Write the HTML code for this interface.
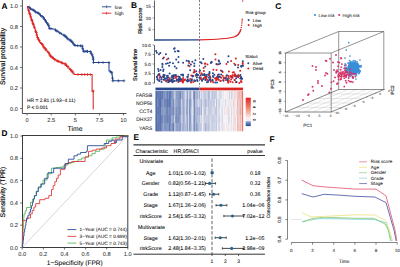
<!DOCTYPE html><html><head><meta charset="utf-8"><style>html,body{margin:0;padding:0;background:#fff;width:400px;height:267px;overflow:hidden}svg{display:block}</style></head><body><svg text-rendering="geometricPrecision" width="400" height="267" viewBox="0 0 400 267" font-family="Liberation Sans, sans-serif"><text x="1.6" y="8.7" font-size="8.3" text-anchor="start" fill="#000" stroke="#000" stroke-width="0.06" font-weight="bold" >A</text>
<text x="131" y="8.3" font-size="8.3" text-anchor="start" fill="#000" stroke="#000" stroke-width="0.06" font-weight="bold" >B</text>
<text x="275.3" y="8.5" font-size="8.3" text-anchor="start" fill="#000" stroke="#000" stroke-width="0.06" font-weight="bold" >C</text>
<text x="1.5" y="135.5" font-size="8.3" text-anchor="start" fill="#000" stroke="#000" stroke-width="0.06" font-weight="bold" >D</text>
<text x="133.5" y="140.3" font-size="8.3" text-anchor="start" fill="#000" stroke="#000" stroke-width="0.06" font-weight="bold" >E</text>
<text x="269.5" y="142.3" font-size="8.3" text-anchor="start" fill="#000" stroke="#000" stroke-width="0.06" font-weight="bold" >F</text>
<line x1="22.4" y1="0" x2="22.4" y2="113.5" stroke="#3a3a3a" stroke-width="0.9" />
<line x1="22.4" y1="113.5" x2="126.5" y2="113.5" stroke="#3a3a3a" stroke-width="0.9" />
<line x1="20" y1="6" x2="22" y2="6" stroke="#3a3a3a" stroke-width="0.7" />
<text x="18.0" y="8" font-size="5.7" text-anchor="end" fill="#333" stroke="#333" stroke-width="0.06" >1.0</text>
<line x1="20" y1="26.5" x2="22" y2="26.5" stroke="#3a3a3a" stroke-width="0.7" />
<text x="18.0" y="28.5" font-size="5.7" text-anchor="end" fill="#333" stroke="#333" stroke-width="0.06" >0.8</text>
<line x1="20" y1="47" x2="22" y2="47" stroke="#3a3a3a" stroke-width="0.7" />
<text x="18.0" y="49" font-size="5.7" text-anchor="end" fill="#333" stroke="#333" stroke-width="0.06" >0.6</text>
<line x1="20" y1="67.5" x2="22" y2="67.5" stroke="#3a3a3a" stroke-width="0.7" />
<text x="18.0" y="69.5" font-size="5.7" text-anchor="end" fill="#333" stroke="#333" stroke-width="0.06" >0.4</text>
<line x1="20" y1="88" x2="22" y2="88" stroke="#3a3a3a" stroke-width="0.7" />
<text x="18.0" y="90" font-size="5.7" text-anchor="end" fill="#333" stroke="#333" stroke-width="0.06" >0.2</text>
<line x1="20" y1="108.5" x2="22" y2="108.5" stroke="#3a3a3a" stroke-width="0.7" />
<text x="18.0" y="110.5" font-size="5.7" text-anchor="end" fill="#333" stroke="#333" stroke-width="0.06" >0.0</text>
<line x1="27" y1="113.5" x2="27" y2="115.5" stroke="#3a3a3a" stroke-width="0.7" />
<text x="27" y="122.1" font-size="5.7" text-anchor="middle" fill="#333" stroke="#333" stroke-width="0.06" >0</text>
<line x1="51.2" y1="113.5" x2="51.2" y2="115.5" stroke="#3a3a3a" stroke-width="0.7" />
<text x="51.2" y="122.1" font-size="5.7" text-anchor="middle" fill="#333" stroke="#333" stroke-width="0.06" >2.5</text>
<line x1="75.3" y1="113.5" x2="75.3" y2="115.5" stroke="#3a3a3a" stroke-width="0.7" />
<text x="75.3" y="122.1" font-size="5.7" text-anchor="middle" fill="#333" stroke="#333" stroke-width="0.06" >5</text>
<line x1="99.4" y1="113.5" x2="99.4" y2="115.5" stroke="#3a3a3a" stroke-width="0.7" />
<text x="99.4" y="122.1" font-size="5.7" text-anchor="middle" fill="#333" stroke="#333" stroke-width="0.06" >7.5</text>
<line x1="123.5" y1="113.5" x2="123.5" y2="115.5" stroke="#3a3a3a" stroke-width="0.7" />
<text x="123.5" y="122.1" font-size="5.7" text-anchor="middle" fill="#333" stroke="#333" stroke-width="0.06" >10</text>
<text x="75" y="130.8" font-size="6.8" text-anchor="middle" fill="#000" stroke="#000" stroke-width="0.06" >Time</text>
<text x="5.2" y="56.5" font-size="6.8" text-anchor="middle" fill="#000" stroke="#000" stroke-width="0.16" transform="rotate(-90 5.2 56.5)" >Survival probability</text>
<path d="M27.00,6.50 L28.20,6.50 L28.20,7.30 L29.40,7.30 L29.40,8.10 L30.60,8.10 L30.60,8.90 L31.80,8.90 L31.80,9.70 L33.00,9.70 L33.00,10.50 L34.20,10.50 L34.20,11.24 L35.40,11.24 L35.40,11.98 L36.60,11.98 L36.60,12.72 L37.80,12.72 L37.80,13.46 L39.00,13.46 L39.00,14.20 L40.50,14.20 L40.50,15.47 L42.00,15.47 L42.00,16.73 L43.50,16.73 L43.50,18.00 L44.50,18.00 L44.50,19.50 L45.50,19.50 L45.50,21.00 L46.50,21.00 L46.50,22.50 L47.23,22.50 L47.23,23.98 L47.95,23.98 L47.95,25.45 L48.67,25.45 L48.67,26.92 L49.40,26.92 L49.40,28.40 L50.93,28.40 L50.93,28.67 L52.47,28.67 L52.47,28.93 L54.00,28.93 L54.00,29.20 L55.47,29.20 L55.47,30.20 L56.93,30.20 L56.93,31.20 L58.40,31.20 L58.40,32.20 L59.93,32.20 L59.93,33.20 L61.47,33.20 L61.47,34.20 L63.00,34.20 L63.00,35.20 L64.20,35.20 L64.20,36.16 L65.40,36.16 L65.40,37.12 L66.60,37.12 L66.60,38.08 L67.80,38.08 L67.80,39.04 L69.00,39.04 L69.00,40.00 L70.20,40.00 L70.20,41.10 L71.40,41.10 L71.40,42.20 L72.60,42.20 L72.60,43.30 L73.80,43.30 L73.80,44.40 L75.00,44.40 L75.00,45.50 L76.38,45.50 L76.38,45.60 L77.76,45.60 L77.76,45.70 L79.14,45.70 L79.14,45.80 L80.52,45.80 L80.52,45.90 L81.90,45.90 L81.90,46.00 L82.28,46.00 L82.28,47.30 L82.65,47.30 L82.65,48.60 L83.03,48.60 L83.03,49.90 L83.40,49.90 L83.40,51.20 L84.78,51.20 L84.78,51.28 L86.16,51.28 L86.16,51.36 L87.54,51.36 L87.54,51.44 L88.92,51.44 L88.92,51.52 L90.30,51.52 L90.30,51.60 L90.95,51.60 L90.95,53.30 L91.60,53.30 L91.60,55.00 L92.35,55.00 L92.35,56.40 L93.10,56.40 L93.10,57.80 L93.23,57.80 L93.23,59.37 L93.37,59.37 L93.37,60.93 L93.50,60.93 L93.50,62.50 L109.00,62.50 L109.00,70.90 L110.40,70.90 L110.40,71.85 L111.80,71.85 L111.80,72.80 L111.97,72.80 L111.97,74.13 L112.13,74.13 L112.13,75.47 L112.30,75.47 L112.30,76.80 L112.47,76.80 L112.47,78.13 L112.63,78.13 L112.63,79.47 L112.80,79.47 L112.80,80.80 L124.00,80.80" fill="none" stroke="#27468c" stroke-width="1.05"/>
<path d="M28.00,7.30h2.8M29.40,5.80v3.0M29.20,8.90h2.8M30.60,7.40v3.0M31.60,9.70h2.8M33.00,8.20v3.0M32.80,10.50h2.8M34.20,9.00v3.0M34.00,11.98h2.8M35.40,10.48v3.0M36.40,12.72h2.8M37.80,11.22v3.0M37.60,13.46h2.8M39.00,11.96v3.0M39.10,15.47h2.8M40.50,13.97v3.0M40.60,16.73h2.8M42.00,15.23v3.0M42.10,18.00h2.8M43.50,16.50v3.0M43.10,19.50h2.8M44.50,18.00v3.0M44.10,21.00h2.8M45.50,19.50v3.0M45.10,22.50h2.8M46.50,21.00v3.0M46.55,23.98h2.8M47.95,22.48v3.0M47.27,25.45h2.8M48.67,23.95v3.0M48.00,28.40h2.8M49.40,26.90v3.0M49.53,28.67h2.8M50.93,27.17v3.0M54.07,30.20h2.8M55.47,28.70v3.0M55.53,31.20h2.8M56.93,29.70v3.0M58.53,33.20h2.8M59.93,31.70v3.0M62.80,35.20h2.8M64.20,33.70v3.0M64.00,36.16h2.8M65.40,34.66v3.0M65.20,37.12h2.8M66.60,35.62v3.0M66.40,39.04h2.8M67.80,37.54v3.0M68.80,40.00h2.8M70.20,38.50v3.0M70.00,41.10h2.8M71.40,39.60v3.0M71.20,42.20h2.8M72.60,40.70v3.0M72.40,44.40h2.8M73.80,42.90v3.0M73.60,45.50h2.8M75.00,44.00v3.0M76.36,45.60h2.8M77.76,44.10v3.0M79.12,45.80h2.8M80.52,44.30v3.0M80.88,46.00h2.8M82.28,44.50v3.0M81.25,48.60h2.8M82.65,47.10v3.0M82.00,51.20h2.8M83.40,49.70v3.0M84.76,51.28h2.8M86.16,49.78v3.0M86.14,51.36h2.8M87.54,49.86v3.0M88.90,51.52h2.8M90.30,50.02v3.0M89.55,53.30h2.8M90.95,51.80v3.0M90.95,55.00h2.8M92.35,53.50v3.0M91.70,57.80h2.8M93.10,56.30v3.0M91.83,59.37h2.8M93.23,57.87v3.0M92.10,62.50h2.8M93.50,61.00v3.0M109.00,71.85h2.8M110.40,70.35v3.0M110.40,72.80h2.8M111.80,71.30v3.0M111.07,78.13h2.8M112.47,76.63v3.0M111.40,80.80h2.8M112.80,79.30v3.0" stroke="#27468c" stroke-width="0.7" fill="none"/>
<path d="M27.00,6.50 L27.45,6.50 L27.45,7.80 L27.90,7.80 L27.90,9.10 L28.35,9.10 L28.35,10.40 L28.80,10.40 L28.80,11.70 L29.25,11.70 L29.25,13.00 L29.70,13.00 L29.70,14.30 L30.15,14.30 L30.15,15.60 L30.60,15.60 L30.60,16.90 L31.05,16.90 L31.05,18.20 L31.50,18.20 L31.50,19.50 L31.96,19.50 L31.96,20.81 L32.42,20.81 L32.42,22.12 L32.89,22.12 L32.89,23.44 L33.35,23.44 L33.35,24.75 L33.81,24.75 L33.81,26.06 L34.28,26.06 L34.28,27.38 L34.74,27.38 L34.74,28.69 L35.20,28.69 L35.20,30.00 L35.58,30.00 L35.58,31.25 L35.97,31.25 L35.97,32.50 L36.35,32.50 L36.35,33.75 L36.73,33.75 L36.73,35.00 L37.12,35.00 L37.12,36.25 L37.50,36.25 L37.50,37.50 L38.13,37.50 L38.13,39.07 L38.77,39.07 L38.77,40.63 L39.40,40.63 L39.40,42.20 L40.52,42.20 L40.52,43.50 L41.64,43.50 L41.64,44.80 L42.76,44.80 L42.76,46.10 L43.88,46.10 L43.88,47.40 L45.00,47.40 L45.00,48.70 L45.93,48.70 L45.93,49.95 L46.87,49.95 L46.87,51.20 L47.80,51.20 L47.80,52.45 L48.73,52.45 L48.73,53.70 L49.67,53.70 L49.67,54.95 L50.60,54.95 L50.60,56.20 L52.00,56.20 L52.00,57.38 L53.40,57.38 L53.40,58.55 L54.80,58.55 L54.80,59.73 L56.20,59.73 L56.20,60.90 L57.45,60.90 L57.45,61.37 L58.70,61.37 L58.70,61.83 L59.95,61.83 L59.95,62.30 L61.20,62.30 L61.20,62.77 L62.45,62.77 L62.45,63.23 L63.70,63.23 L63.70,63.70 L65.10,63.70 L65.10,65.10 L66.50,65.10 L66.50,66.50 L67.90,66.50 L67.90,67.90 L69.30,67.90 L69.30,69.30 L70.47,69.30 L70.47,70.60 L71.65,70.60 L71.65,71.90 L72.83,71.90 L72.83,73.20 L74.00,73.20 L74.00,74.50 L92.10,74.50 L92.10,91.10 L93.20,91.10 L93.20,109.60" fill="none" stroke="#dd2222" stroke-width="1.05"/>
<path d="M27.40,10.40h2.8M28.80,8.90v3.0M27.85,13.00h2.8M29.25,11.50v3.0M28.75,14.30h2.8M30.15,12.80v3.0M29.20,16.90h2.8M30.60,15.40v3.0M30.10,19.50h2.8M31.50,18.00v3.0M30.56,20.81h2.8M31.96,19.31v3.0M31.49,23.44h2.8M32.89,21.94v3.0M31.95,24.75h2.8M33.35,23.25v3.0M32.88,27.38h2.8M34.28,25.88v3.0M34.18,31.25h2.8M35.58,29.75v3.0M34.95,32.50h2.8M36.35,31.00v3.0M35.33,35.00h2.8M36.73,33.50v3.0M36.10,37.50h2.8M37.50,36.00v3.0M36.73,39.07h2.8M38.13,37.57v3.0M38.00,40.63h2.8M39.40,39.13v3.0M40.24,43.50h2.8M41.64,42.00v3.0M41.36,44.80h2.8M42.76,43.30v3.0M42.48,47.40h2.8M43.88,45.90v3.0M43.60,48.70h2.8M45.00,47.20v3.0M44.53,49.95h2.8M45.93,48.45v3.0M47.33,52.45h2.8M48.73,50.95v3.0M48.27,54.95h2.8M49.67,53.45v3.0M49.20,56.20h2.8M50.60,54.70v3.0M50.60,57.38h2.8M52.00,55.88v3.0M52.00,58.55h2.8M53.40,57.05v3.0M53.40,59.73h2.8M54.80,58.23v3.0M56.05,60.90h2.8M57.45,59.40v3.0M57.30,61.37h2.8M58.70,59.87v3.0M59.80,62.30h2.8M61.20,60.80v3.0M61.05,63.23h2.8M62.45,61.73v3.0M63.70,63.70h2.8M65.10,62.20v3.0M65.10,65.10h2.8M66.50,63.60v3.0M66.50,66.50h2.8M67.90,65.00v3.0M69.07,69.30h2.8M70.47,67.80v3.0M70.25,70.60h2.8M71.65,69.10v3.0M71.42,71.90h2.8M72.83,70.40v3.0M91.80,91.10h2.8M93.20,89.60v3.0" stroke="#dd2222" stroke-width="0.7" fill="none"/>
<path d="M83.30,51.60h2.8M84.70,50.10v3.0M86.10,51.60h2.8M87.50,50.10v3.0M97.30,62.50h2.8M98.70,61.00v3.0M101.60,62.50h2.8M103.00,61.00v3.0M107.60,62.50h2.8M109.00,61.00v3.0M117.00,80.80h2.8M118.40,79.30v3.0M122.60,80.80h2.8M124.00,79.30v3.0" stroke="#27468c" stroke-width="0.7" fill="none"/>
<path d="M76.60,74.50h2.8M78.00,73.00v3.0M80.50,74.50h2.8M81.90,73.00v3.0M83.30,74.50h2.8M84.70,73.00v3.0M86.10,74.50h2.8M87.50,73.00v3.0M88.90,74.50h2.8M90.30,73.00v3.0" stroke="#dd2222" stroke-width="0.7" fill="none"/>
<line x1="102" y1="6.8" x2="111.3" y2="6.8" stroke="#27468c" stroke-width="0.9" />
<line x1="106.6" y1="5.4" x2="106.6" y2="8.2" stroke="#27468c" stroke-width="0.7" />
<line x1="102" y1="13.2" x2="111.3" y2="13.2" stroke="#dd2222" stroke-width="0.9" />
<line x1="106.6" y1="11.8" x2="106.6" y2="14.6" stroke="#dd2222" stroke-width="0.7" />
<text x="114.8" y="8.5" font-size="4.7" text-anchor="start" fill="#222" stroke="#222" stroke-width="0.06" >low</text>
<text x="114.8" y="14.9" font-size="4.7" text-anchor="start" fill="#222" stroke="#222" stroke-width="0.06" >high</text>
<text x="27" y="101.6" font-size="4.9" text-anchor="start" fill="#000" stroke="#000" stroke-width="0.06" >HR = 2.81 (1.93−4.11)</text>
<text x="27" y="108.6" font-size="4.9" text-anchor="start" fill="#000" stroke="#000" stroke-width="0.06" >P &lt; 0.001</text>
<line x1="154.5" y1="0.5" x2="154.5" y2="41" stroke="#3a3a3a" stroke-width="0.8" />
<line x1="152.5" y1="6.75" x2="154" y2="6.75" stroke="#333" stroke-width="0.5" />
<text x="150.8" y="8.35" font-size="4.6" text-anchor="end" fill="#222" stroke="#222" stroke-width="0.06" >15</text>
<line x1="152.5" y1="18" x2="154" y2="18" stroke="#333" stroke-width="0.5" />
<text x="150.8" y="19.6" font-size="4.6" text-anchor="end" fill="#222" stroke="#222" stroke-width="0.06" >10</text>
<line x1="152.5" y1="29.7" x2="154" y2="29.7" stroke="#333" stroke-width="0.5" />
<text x="150.8" y="31.3" font-size="4.6" text-anchor="end" fill="#222" stroke="#222" stroke-width="0.06" >5</text>
<text x="142.3" y="20.6" font-size="5.6" text-anchor="middle" fill="#000" stroke="#000" stroke-width="0.16" transform="rotate(-90 142.3 20.6)" >Risk score</text>
<path d="M155,40 L199,39.8" stroke="#27468c" stroke-width="1.3" fill="none"/>
<path d="M199,39.8 C215,39.5 228,38.8 234,37 C238,35.8 240,33 241,29" stroke="#dd2222" stroke-width="1.3" fill="none"/>
<circle cx="242.7" cy="1" r="0.7" fill="#dd2222"/>
<circle cx="241.3" cy="27.5" r="0.75" fill="#dd2222"/>
<circle cx="241.6" cy="25.2" r="0.75" fill="#dd2222"/>
<circle cx="241.9" cy="23" r="0.75" fill="#dd2222"/>
<circle cx="242.1" cy="21" r="0.75" fill="#dd2222"/>
<circle cx="242.3" cy="19.2" r="0.75" fill="#dd2222"/>
<line x1="199.5" y1="0" x2="199.5" y2="87" stroke="#444" stroke-width="0.7" stroke-dasharray="2,1.6"/>
<text x="245.5" y="14.3" font-size="4.2" text-anchor="start" fill="#000" stroke="#000" stroke-width="0.06" >Risk group</text>
<circle cx="248.6" cy="20" r="1.0" fill="#27468c"/>
<text x="252.8" y="21.6" font-size="4.4" text-anchor="start" fill="#000" stroke="#000" stroke-width="0.06" >Low</text>
<circle cx="248.6" cy="25" r="1.0" fill="#dd2222"/>
<text x="252.8" y="26.6" font-size="4.4" text-anchor="start" fill="#000" stroke="#000" stroke-width="0.06" >High</text>
<line x1="154.5" y1="45" x2="154.5" y2="83.5" stroke="#3a3a3a" stroke-width="0.8" />
<line x1="152.5" y1="45" x2="154" y2="45" stroke="#333" stroke-width="0.5" />
<text x="150.8" y="46.6" font-size="4.6" text-anchor="end" fill="#222" stroke="#222" stroke-width="0.06" >10.0</text>
<line x1="152.5" y1="54.5" x2="154" y2="54.5" stroke="#333" stroke-width="0.5" />
<text x="150.8" y="56.1" font-size="4.6" text-anchor="end" fill="#222" stroke="#222" stroke-width="0.06" >7.5</text>
<line x1="152.5" y1="64" x2="154" y2="64" stroke="#333" stroke-width="0.5" />
<text x="150.8" y="65.6" font-size="4.6" text-anchor="end" fill="#222" stroke="#222" stroke-width="0.06" >5.0</text>
<line x1="152.5" y1="73.5" x2="154" y2="73.5" stroke="#333" stroke-width="0.5" />
<text x="150.8" y="75.1" font-size="4.6" text-anchor="end" fill="#222" stroke="#222" stroke-width="0.06" >2.5</text>
<line x1="152.5" y1="83" x2="154" y2="83" stroke="#333" stroke-width="0.5" />
<text x="150.8" y="84.6" font-size="4.6" text-anchor="end" fill="#222" stroke="#222" stroke-width="0.06" >0.0</text>
<text x="137.3" y="65" font-size="5.6" text-anchor="middle" fill="#000" stroke="#000" stroke-width="0.16" transform="rotate(-90 137.3 65)" >Survival time</text>
<circle cx="195.4" cy="60.2" r="1.0" fill="#27468c"/>
<circle cx="200.2" cy="78.4" r="1.0" fill="#27468c"/>
<circle cx="210.8" cy="80.7" r="1.0" fill="#dd2222"/>
<circle cx="163.9" cy="57.4" r="1.0" fill="#dd2222"/>
<circle cx="241.5" cy="66.0" r="1.0" fill="#27468c"/>
<circle cx="169.7" cy="78.2" r="1.0" fill="#dd2222"/>
<circle cx="172.5" cy="82.2" r="1.0" fill="#27468c"/>
<circle cx="194.3" cy="66.1" r="1.0" fill="#27468c"/>
<circle cx="199.5" cy="71.7" r="1.0" fill="#dd2222"/>
<circle cx="242.8" cy="61.3" r="1.0" fill="#27468c"/>
<circle cx="183.4" cy="80.1" r="1.0" fill="#dd2222"/>
<circle cx="222.7" cy="75.7" r="1.0" fill="#dd2222"/>
<circle cx="239.3" cy="83.0" r="1.0" fill="#dd2222"/>
<circle cx="235.2" cy="74.6" r="1.0" fill="#dd2222"/>
<circle cx="162.4" cy="63.8" r="1.0" fill="#27468c"/>
<circle cx="163.6" cy="74.7" r="1.0" fill="#27468c"/>
<circle cx="166.3" cy="81.6" r="1.0" fill="#dd2222"/>
<circle cx="225.3" cy="78.0" r="1.0" fill="#dd2222"/>
<circle cx="172.6" cy="79.8" r="1.0" fill="#27468c"/>
<circle cx="166.1" cy="80.7" r="1.0" fill="#27468c"/>
<circle cx="240.5" cy="75.0" r="1.0" fill="#27468c"/>
<circle cx="174.3" cy="75.6" r="1.0" fill="#27468c"/>
<circle cx="164.7" cy="75.2" r="1.0" fill="#27468c"/>
<circle cx="223.2" cy="80.1" r="1.0" fill="#dd2222"/>
<circle cx="163.8" cy="77.0" r="1.0" fill="#27468c"/>
<circle cx="188.3" cy="74.8" r="1.0" fill="#27468c"/>
<circle cx="206.0" cy="77.3" r="1.0" fill="#dd2222"/>
<circle cx="235.0" cy="76.3" r="1.0" fill="#dd2222"/>
<circle cx="220.3" cy="77.3" r="1.0" fill="#27468c"/>
<circle cx="232.8" cy="72.6" r="1.0" fill="#dd2222"/>
<circle cx="159.4" cy="74.1" r="1.0" fill="#27468c"/>
<circle cx="178.4" cy="62.2" r="1.0" fill="#27468c"/>
<circle cx="171.3" cy="81.3" r="1.0" fill="#dd2222"/>
<circle cx="204.7" cy="63.8" r="1.0" fill="#dd2222"/>
<circle cx="235.8" cy="82.3" r="1.0" fill="#dd2222"/>
<circle cx="194.8" cy="81.0" r="1.0" fill="#dd2222"/>
<circle cx="205.8" cy="79.5" r="1.0" fill="#27468c"/>
<circle cx="241.3" cy="65.9" r="1.0" fill="#27468c"/>
<circle cx="168.2" cy="82.3" r="1.0" fill="#27468c"/>
<circle cx="217.0" cy="82.4" r="1.0" fill="#27468c"/>
<circle cx="198.0" cy="75.1" r="1.0" fill="#27468c"/>
<circle cx="162.5" cy="64.8" r="1.0" fill="#27468c"/>
<circle cx="220.1" cy="63.4" r="1.0" fill="#27468c"/>
<circle cx="186.6" cy="60.7" r="1.0" fill="#27468c"/>
<circle cx="192.3" cy="61.7" r="1.0" fill="#27468c"/>
<circle cx="210.4" cy="77.8" r="1.0" fill="#27468c"/>
<circle cx="163.0" cy="58.5" r="1.0" fill="#27468c"/>
<circle cx="219.4" cy="76.6" r="1.0" fill="#27468c"/>
<circle cx="194.3" cy="80.3" r="1.0" fill="#27468c"/>
<circle cx="158.6" cy="71.1" r="1.0" fill="#27468c"/>
<circle cx="216.8" cy="77.5" r="1.0" fill="#27468c"/>
<circle cx="178.3" cy="80.0" r="1.0" fill="#27468c"/>
<circle cx="173.6" cy="75.2" r="1.0" fill="#27468c"/>
<circle cx="194.4" cy="72.3" r="1.0" fill="#27468c"/>
<circle cx="173.3" cy="76.0" r="1.0" fill="#27468c"/>
<circle cx="232.6" cy="77.8" r="1.0" fill="#dd2222"/>
<circle cx="167.8" cy="75.7" r="1.0" fill="#27468c"/>
<circle cx="217.9" cy="74.9" r="1.0" fill="#dd2222"/>
<circle cx="195.2" cy="80.7" r="1.0" fill="#27468c"/>
<circle cx="210.4" cy="79.9" r="1.0" fill="#27468c"/>
<circle cx="241.4" cy="81.8" r="1.0" fill="#dd2222"/>
<circle cx="231.9" cy="76.8" r="1.0" fill="#dd2222"/>
<circle cx="182.9" cy="82.5" r="1.0" fill="#dd2222"/>
<circle cx="195.6" cy="75.8" r="1.0" fill="#dd2222"/>
<circle cx="168.3" cy="77.4" r="1.0" fill="#27468c"/>
<circle cx="210.8" cy="63.1" r="1.0" fill="#27468c"/>
<circle cx="215.6" cy="78.6" r="1.0" fill="#dd2222"/>
<circle cx="156.9" cy="76.7" r="1.0" fill="#27468c"/>
<circle cx="179.7" cy="76.9" r="1.0" fill="#27468c"/>
<circle cx="209.5" cy="73.3" r="1.0" fill="#27468c"/>
<circle cx="234.8" cy="75.0" r="1.0" fill="#27468c"/>
<circle cx="167.3" cy="77.4" r="1.0" fill="#27468c"/>
<circle cx="188.8" cy="61.3" r="1.0" fill="#27468c"/>
<circle cx="238.2" cy="77.2" r="1.0" fill="#dd2222"/>
<circle cx="218.8" cy="64.3" r="1.0" fill="#27468c"/>
<circle cx="174.6" cy="48.3" r="1.0" fill="#27468c"/>
<circle cx="202.7" cy="75.1" r="1.0" fill="#27468c"/>
<circle cx="230.5" cy="81.8" r="1.0" fill="#dd2222"/>
<circle cx="203.9" cy="71.0" r="1.0" fill="#dd2222"/>
<circle cx="226.4" cy="76.0" r="1.0" fill="#dd2222"/>
<circle cx="185.1" cy="79.5" r="1.0" fill="#dd2222"/>
<circle cx="200.9" cy="62.3" r="1.0" fill="#27468c"/>
<circle cx="238.3" cy="74.9" r="1.0" fill="#dd2222"/>
<circle cx="175.3" cy="75.8" r="1.0" fill="#27468c"/>
<circle cx="211.6" cy="62.2" r="1.0" fill="#27468c"/>
<circle cx="183.1" cy="75.7" r="1.0" fill="#27468c"/>
<circle cx="174.1" cy="48.7" r="1.0" fill="#27468c"/>
<circle cx="205.9" cy="78.2" r="1.0" fill="#27468c"/>
<circle cx="208.7" cy="74.7" r="1.0" fill="#27468c"/>
<circle cx="190.9" cy="64.4" r="1.0" fill="#27468c"/>
<circle cx="216.1" cy="78.1" r="1.0" fill="#dd2222"/>
<circle cx="239.2" cy="75.9" r="1.0" fill="#dd2222"/>
<circle cx="167.0" cy="75.9" r="1.0" fill="#27468c"/>
<circle cx="197.5" cy="80.9" r="1.0" fill="#27468c"/>
<circle cx="236.5" cy="76.2" r="1.0" fill="#dd2222"/>
<circle cx="172.9" cy="76.9" r="1.0" fill="#27468c"/>
<circle cx="186.9" cy="80.4" r="1.0" fill="#27468c"/>
<circle cx="166.7" cy="80.4" r="1.0" fill="#dd2222"/>
<circle cx="202.1" cy="79.4" r="1.0" fill="#dd2222"/>
<circle cx="202.1" cy="80.8" r="1.0" fill="#27468c"/>
<circle cx="211.5" cy="62.0" r="1.0" fill="#27468c"/>
<circle cx="230.5" cy="76.5" r="1.0" fill="#27468c"/>
<circle cx="234.5" cy="79.9" r="1.0" fill="#27468c"/>
<circle cx="175.0" cy="51.6" r="1.0" fill="#27468c"/>
<circle cx="176.8" cy="76.6" r="1.0" fill="#dd2222"/>
<circle cx="228.4" cy="76.1" r="1.0" fill="#dd2222"/>
<circle cx="191.0" cy="82.6" r="1.0" fill="#dd2222"/>
<circle cx="215.4" cy="54.2" r="1.0" fill="#dd2222"/>
<circle cx="200.0" cy="70.6" r="1.0" fill="#27468c"/>
<circle cx="172.4" cy="81.6" r="1.0" fill="#dd2222"/>
<circle cx="204.0" cy="77.9" r="1.0" fill="#dd2222"/>
<circle cx="172.1" cy="75.7" r="1.0" fill="#27468c"/>
<circle cx="236.6" cy="81.9" r="1.0" fill="#27468c"/>
<circle cx="196.2" cy="74.9" r="1.0" fill="#27468c"/>
<circle cx="200.8" cy="77.6" r="1.0" fill="#dd2222"/>
<circle cx="217.0" cy="77.7" r="1.0" fill="#dd2222"/>
<circle cx="220.3" cy="80.9" r="1.0" fill="#dd2222"/>
<circle cx="200.6" cy="75.3" r="1.0" fill="#27468c"/>
<circle cx="217.3" cy="64.5" r="1.0" fill="#dd2222"/>
<circle cx="208.2" cy="74.6" r="1.0" fill="#27468c"/>
<circle cx="178.5" cy="57.0" r="1.0" fill="#27468c"/>
<circle cx="226.9" cy="75.3" r="1.0" fill="#27468c"/>
<circle cx="216.4" cy="64.1" r="1.0" fill="#27468c"/>
<circle cx="218.9" cy="79.7" r="1.0" fill="#dd2222"/>
<circle cx="156.9" cy="77.3" r="1.0" fill="#27468c"/>
<circle cx="176.2" cy="59.6" r="1.0" fill="#27468c"/>
<circle cx="213.4" cy="69.8" r="1.0" fill="#dd2222"/>
<circle cx="243.0" cy="65.7" r="1.0" fill="#27468c"/>
<circle cx="241.3" cy="77.5" r="1.0" fill="#27468c"/>
<circle cx="178.3" cy="82.0" r="1.0" fill="#dd2222"/>
<circle cx="188.7" cy="80.4" r="1.0" fill="#27468c"/>
<circle cx="203.9" cy="74.7" r="1.0" fill="#27468c"/>
<circle cx="242.6" cy="63.0" r="1.0" fill="#dd2222"/>
<circle cx="208.0" cy="81.9" r="1.0" fill="#27468c"/>
<circle cx="169.9" cy="81.1" r="1.0" fill="#27468c"/>
<circle cx="209.2" cy="74.9" r="1.0" fill="#dd2222"/>
<circle cx="201.8" cy="74.0" r="1.0" fill="#dd2222"/>
<circle cx="213.0" cy="76.0" r="1.0" fill="#27468c"/>
<circle cx="181.8" cy="80.5" r="1.0" fill="#dd2222"/>
<circle cx="169.6" cy="73.4" r="1.0" fill="#27468c"/>
<circle cx="221.1" cy="74.5" r="1.0" fill="#27468c"/>
<circle cx="162.4" cy="67.1" r="1.0" fill="#27468c"/>
<circle cx="240.7" cy="78.3" r="1.0" fill="#27468c"/>
<circle cx="218.9" cy="74.6" r="1.0" fill="#27468c"/>
<circle cx="208.5" cy="77.4" r="1.0" fill="#27468c"/>
<circle cx="173.7" cy="78.2" r="1.0" fill="#dd2222"/>
<circle cx="194.5" cy="71.7" r="1.0" fill="#dd2222"/>
<circle cx="206.7" cy="76.2" r="1.0" fill="#27468c"/>
<circle cx="242.8" cy="64.0" r="1.0" fill="#dd2222"/>
<circle cx="165.9" cy="54.3" r="1.0" fill="#27468c"/>
<circle cx="187.2" cy="77.0" r="1.0" fill="#27468c"/>
<circle cx="207.5" cy="64.4" r="1.0" fill="#dd2222"/>
<circle cx="177.7" cy="51.0" r="1.0" fill="#27468c"/>
<circle cx="159.4" cy="80.3" r="1.0" fill="#27468c"/>
<circle cx="210.2" cy="78.1" r="1.0" fill="#dd2222"/>
<circle cx="163.5" cy="69.4" r="1.0" fill="#27468c"/>
<circle cx="188.5" cy="80.7" r="1.0" fill="#dd2222"/>
<circle cx="220.8" cy="80.8" r="1.0" fill="#dd2222"/>
<circle cx="226.4" cy="64.0" r="1.0" fill="#dd2222"/>
<circle cx="192.9" cy="76.0" r="1.0" fill="#27468c"/>
<circle cx="212.9" cy="73.2" r="1.0" fill="#27468c"/>
<circle cx="220.9" cy="70.6" r="1.0" fill="#dd2222"/>
<circle cx="164.4" cy="80.1" r="1.0" fill="#dd2222"/>
<circle cx="205.1" cy="77.0" r="1.0" fill="#dd2222"/>
<circle cx="223.5" cy="80.7" r="1.0" fill="#27468c"/>
<circle cx="163.1" cy="76.6" r="1.0" fill="#27468c"/>
<circle cx="180.6" cy="79.6" r="1.0" fill="#27468c"/>
<circle cx="187.9" cy="76.8" r="1.0" fill="#27468c"/>
<circle cx="235.9" cy="58.5" r="1.0" fill="#dd2222"/>
<circle cx="225.9" cy="79.9" r="1.0" fill="#dd2222"/>
<circle cx="237.3" cy="76.4" r="1.0" fill="#dd2222"/>
<circle cx="187.8" cy="79.3" r="1.0" fill="#27468c"/>
<circle cx="173.0" cy="63.3" r="1.0" fill="#27468c"/>
<circle cx="228.8" cy="78.6" r="1.0" fill="#27468c"/>
<circle cx="232.6" cy="82.3" r="1.0" fill="#dd2222"/>
<circle cx="203.3" cy="59.1" r="1.0" fill="#27468c"/>
<circle cx="226.0" cy="78.1" r="1.0" fill="#27468c"/>
<circle cx="163.3" cy="76.5" r="1.0" fill="#27468c"/>
<circle cx="163.4" cy="79.4" r="1.0" fill="#27468c"/>
<circle cx="212.5" cy="80.7" r="1.0" fill="#27468c"/>
<circle cx="201.4" cy="73.3" r="1.0" fill="#dd2222"/>
<circle cx="240.2" cy="70.8" r="1.0" fill="#dd2222"/>
<circle cx="218.7" cy="60.4" r="1.0" fill="#27468c"/>
<circle cx="227.9" cy="61.9" r="1.0" fill="#27468c"/>
<circle cx="228.5" cy="56.3" r="1.0" fill="#27468c"/>
<circle cx="201.6" cy="63.2" r="1.0" fill="#27468c"/>
<circle cx="192.6" cy="76.5" r="1.0" fill="#27468c"/>
<circle cx="188.7" cy="80.8" r="1.0" fill="#27468c"/>
<circle cx="181.4" cy="81.0" r="1.0" fill="#dd2222"/>
<circle cx="166.0" cy="63.8" r="1.0" fill="#27468c"/>
<circle cx="161.4" cy="77.8" r="1.0" fill="#27468c"/>
<circle cx="159.2" cy="81.0" r="1.0" fill="#27468c"/>
<circle cx="176.5" cy="68.3" r="1.0" fill="#27468c"/>
<circle cx="172.1" cy="81.1" r="1.0" fill="#27468c"/>
<circle cx="183.1" cy="62.8" r="1.0" fill="#27468c"/>
<circle cx="178.7" cy="51.2" r="1.0" fill="#27468c"/>
<circle cx="203.6" cy="67.9" r="1.0" fill="#dd2222"/>
<circle cx="160.3" cy="53.0" r="1.0" fill="#27468c"/>
<circle cx="201.9" cy="80.2" r="1.0" fill="#27468c"/>
<circle cx="213.2" cy="82.3" r="1.0" fill="#dd2222"/>
<circle cx="188.3" cy="65.4" r="1.0" fill="#27468c"/>
<circle cx="169.7" cy="79.9" r="1.0" fill="#27468c"/>
<circle cx="231.6" cy="77.3" r="1.0" fill="#27468c"/>
<circle cx="179.2" cy="79.3" r="1.0" fill="#27468c"/>
<circle cx="156.1" cy="50.9" r="1.0" fill="#27468c"/>
<circle cx="163.2" cy="76.7" r="1.0" fill="#dd2222"/>
<circle cx="197.8" cy="74.8" r="1.0" fill="#27468c"/>
<circle cx="230.6" cy="76.1" r="1.0" fill="#dd2222"/>
<circle cx="235.8" cy="75.8" r="1.0" fill="#dd2222"/>
<circle cx="203.3" cy="79.1" r="1.0" fill="#27468c"/>
<circle cx="183.1" cy="81.8" r="1.0" fill="#dd2222"/>
<circle cx="196.6" cy="74.1" r="1.0" fill="#27468c"/>
<circle cx="165.2" cy="78.7" r="1.0" fill="#27468c"/>
<circle cx="228.2" cy="82.7" r="1.0" fill="#dd2222"/>
<circle cx="217.8" cy="77.9" r="1.0" fill="#dd2222"/>
<circle cx="156.9" cy="52.7" r="1.0" fill="#27468c"/>
<circle cx="209.6" cy="79.4" r="1.0" fill="#27468c"/>
<circle cx="181.9" cy="79.3" r="1.0" fill="#27468c"/>
<circle cx="178.3" cy="76.6" r="1.0" fill="#27468c"/>
<circle cx="238.2" cy="65.1" r="1.0" fill="#dd2222"/>
<circle cx="227.9" cy="81.3" r="1.0" fill="#dd2222"/>
<circle cx="215.0" cy="78.6" r="1.0" fill="#dd2222"/>
<circle cx="228.8" cy="80.8" r="1.0" fill="#dd2222"/>
<circle cx="169.7" cy="79.2" r="1.0" fill="#dd2222"/>
<circle cx="236.1" cy="78.3" r="1.0" fill="#27468c"/>
<circle cx="222.7" cy="71.9" r="1.0" fill="#dd2222"/>
<circle cx="191.9" cy="79.2" r="1.0" fill="#27468c"/>
<circle cx="241.4" cy="66.7" r="1.0" fill="#27468c"/>
<circle cx="157.6" cy="79.7" r="1.0" fill="#27468c"/>
<circle cx="165.2" cy="78.4" r="1.0" fill="#27468c"/>
<circle cx="227.8" cy="79.1" r="1.0" fill="#27468c"/>
<circle cx="234.6" cy="74.3" r="1.0" fill="#dd2222"/>
<circle cx="168.3" cy="58.6" r="1.0" fill="#27468c"/>
<circle cx="218.2" cy="77.2" r="1.0" fill="#27468c"/>
<circle cx="210.6" cy="81.8" r="1.0" fill="#dd2222"/>
<circle cx="206.2" cy="74.9" r="1.0" fill="#27468c"/>
<circle cx="187.4" cy="81.4" r="1.0" fill="#27468c"/>
<circle cx="167.8" cy="63.2" r="1.0" fill="#27468c"/>
<circle cx="204.8" cy="75.2" r="1.0" fill="#27468c"/>
<circle cx="227.1" cy="80.0" r="1.0" fill="#27468c"/>
<circle cx="181.1" cy="74.7" r="1.0" fill="#27468c"/>
<circle cx="228.3" cy="78.1" r="1.0" fill="#dd2222"/>
<circle cx="158.8" cy="74.6" r="1.0" fill="#27468c"/>
<circle cx="213.3" cy="77.1" r="1.0" fill="#27468c"/>
<circle cx="189.2" cy="63.1" r="1.0" fill="#dd2222"/>
<circle cx="173.4" cy="81.3" r="1.0" fill="#27468c"/>
<circle cx="205.5" cy="78.3" r="1.0" fill="#dd2222"/>
<circle cx="205.4" cy="77.3" r="1.0" fill="#dd2222"/>
<circle cx="214.4" cy="74.8" r="1.0" fill="#27468c"/>
<circle cx="196.9" cy="77.5" r="1.0" fill="#27468c"/>
<circle cx="221.9" cy="71.0" r="1.0" fill="#27468c"/>
<circle cx="228.9" cy="71.6" r="1.0" fill="#dd2222"/>
<circle cx="205.2" cy="66.6" r="1.0" fill="#27468c"/>
<circle cx="193.6" cy="72.5" r="1.0" fill="#dd2222"/>
<circle cx="219.1" cy="61.6" r="1.0" fill="#27468c"/>
<circle cx="221.4" cy="77.7" r="1.0" fill="#dd2222"/>
<circle cx="166.8" cy="78.4" r="1.0" fill="#27468c"/>
<circle cx="160.5" cy="70.0" r="1.0" fill="#27468c"/>
<circle cx="182.6" cy="80.5" r="1.0" fill="#dd2222"/>
<circle cx="235.3" cy="65.1" r="1.0" fill="#27468c"/>
<circle cx="192.7" cy="75.7" r="1.0" fill="#27468c"/>
<circle cx="205.3" cy="79.9" r="1.0" fill="#27468c"/>
<circle cx="166.8" cy="59.5" r="1.0" fill="#dd2222"/>
<circle cx="177.2" cy="79.8" r="1.0" fill="#dd2222"/>
<circle cx="233.9" cy="72.2" r="1.0" fill="#dd2222"/>
<circle cx="206.9" cy="82.2" r="1.0" fill="#27468c"/>
<circle cx="182.8" cy="75.0" r="1.0" fill="#27468c"/>
<circle cx="197.1" cy="80.1" r="1.0" fill="#27468c"/>
<circle cx="234.0" cy="75.7" r="1.0" fill="#dd2222"/>
<circle cx="197.1" cy="75.4" r="1.0" fill="#27468c"/>
<circle cx="173.6" cy="78.3" r="1.0" fill="#27468c"/>
<circle cx="160.4" cy="76.6" r="1.0" fill="#27468c"/>
<circle cx="234.3" cy="63.7" r="1.0" fill="#dd2222"/>
<circle cx="216.5" cy="69.9" r="1.0" fill="#dd2222"/>
<circle cx="175.4" cy="76.8" r="1.0" fill="#dd2222"/>
<circle cx="171.7" cy="77.1" r="1.0" fill="#27468c"/>
<circle cx="188.4" cy="61.2" r="1.0" fill="#27468c"/>
<circle cx="175.9" cy="75.0" r="1.0" fill="#27468c"/>
<circle cx="180.1" cy="80.8" r="1.0" fill="#27468c"/>
<circle cx="194.3" cy="69.9" r="1.0" fill="#dd2222"/>
<circle cx="208.2" cy="80.4" r="1.0" fill="#27468c"/>
<circle cx="163.6" cy="76.4" r="1.0" fill="#27468c"/>
<circle cx="180.3" cy="78.4" r="1.0" fill="#27468c"/>
<circle cx="241.9" cy="78.7" r="1.0" fill="#27468c"/>
<circle cx="189.5" cy="66.3" r="1.0" fill="#dd2222"/>
<circle cx="204.4" cy="74.1" r="1.0" fill="#27468c"/>
<circle cx="224.1" cy="78.4" r="1.0" fill="#27468c"/>
<circle cx="215.5" cy="59.5" r="1.0" fill="#dd2222"/>
<circle cx="223.8" cy="77.6" r="1.0" fill="#dd2222"/>
<circle cx="194.3" cy="63.6" r="1.0" fill="#27468c"/>
<circle cx="176.5" cy="80.7" r="1.0" fill="#27468c"/>
<circle cx="199.4" cy="77.7" r="1.0" fill="#27468c"/>
<circle cx="205.8" cy="77.4" r="1.0" fill="#dd2222"/>
<circle cx="157.5" cy="79.0" r="1.0" fill="#27468c"/>
<circle cx="178.9" cy="81.2" r="1.0" fill="#27468c"/>
<circle cx="205.5" cy="63.4" r="1.0" fill="#dd2222"/>
<circle cx="168.7" cy="82.1" r="1.0" fill="#27468c"/>
<circle cx="210.0" cy="76.5" r="1.0" fill="#27468c"/>
<circle cx="163.7" cy="76.7" r="1.0" fill="#27468c"/>
<circle cx="169.9" cy="62.5" r="1.0" fill="#27468c"/>
<circle cx="161.3" cy="79.5" r="1.0" fill="#27468c"/>
<circle cx="240.4" cy="78.5" r="1.0" fill="#27468c"/>
<circle cx="241.8" cy="78.8" r="1.0" fill="#27468c"/>
<circle cx="159.4" cy="75.3" r="1.0" fill="#dd2222"/>
<circle cx="190.2" cy="79.0" r="1.0" fill="#dd2222"/>
<circle cx="159.0" cy="54.3" r="1.0" fill="#27468c"/>
<circle cx="176.0" cy="78.0" r="1.0" fill="#dd2222"/>
<circle cx="196.2" cy="71.2" r="1.0" fill="#27468c"/>
<circle cx="241.4" cy="82.0" r="1.0" fill="#dd2222"/>
<circle cx="212.5" cy="79.7" r="1.0" fill="#27468c"/>
<circle cx="231.2" cy="61.1" r="1.0" fill="#dd2222"/>
<circle cx="190.2" cy="70.3" r="1.0" fill="#27468c"/>
<circle cx="174.7" cy="81.0" r="1.0" fill="#27468c"/>
<circle cx="170.3" cy="80.7" r="1.0" fill="#27468c"/>
<circle cx="182.8" cy="74.5" r="1.0" fill="#27468c"/>
<circle cx="231.1" cy="79.4" r="1.0" fill="#dd2222"/>
<circle cx="216.1" cy="80.2" r="1.0" fill="#dd2222"/>
<circle cx="171.8" cy="79.3" r="1.0" fill="#27468c"/>
<circle cx="218.2" cy="79.5" r="1.0" fill="#dd2222"/>
<circle cx="237.5" cy="76.3" r="1.0" fill="#27468c"/>
<circle cx="234.9" cy="79.9" r="1.0" fill="#dd2222"/>
<circle cx="163.2" cy="71.0" r="1.0" fill="#27468c"/>
<circle cx="201.2" cy="79.3" r="1.0" fill="#dd2222"/>
<circle cx="159.6" cy="77.7" r="1.0" fill="#dd2222"/>
<circle cx="183.2" cy="78.1" r="1.0" fill="#dd2222"/>
<circle cx="217.5" cy="76.6" r="1.0" fill="#27468c"/>
<circle cx="168.8" cy="80.2" r="1.0" fill="#27468c"/>
<circle cx="191.3" cy="75.5" r="1.0" fill="#dd2222"/>
<circle cx="181.4" cy="80.7" r="1.0" fill="#dd2222"/>
<circle cx="158.1" cy="69.0" r="1.0" fill="#27468c"/>
<circle cx="240.9" cy="77.1" r="1.0" fill="#27468c"/>
<circle cx="174.8" cy="66.5" r="1.0" fill="#27468c"/>
<circle cx="231.5" cy="77.4" r="1.0" fill="#dd2222"/>
<circle cx="193.2" cy="82.0" r="1.0" fill="#dd2222"/>
<circle cx="184.6" cy="80.2" r="1.0" fill="#dd2222"/>
<circle cx="191.0" cy="81.1" r="1.0" fill="#27468c"/>
<circle cx="176.9" cy="79.7" r="1.0" fill="#27468c"/>
<circle cx="169.1" cy="65.7" r="1.0" fill="#27468c"/>
<circle cx="216.9" cy="79.3" r="1.0" fill="#dd2222"/>
<circle cx="161.5" cy="82.0" r="1.0" fill="#27468c"/>
<circle cx="207.0" cy="79.8" r="1.0" fill="#dd2222"/>
<circle cx="158.0" cy="75.3" r="1.0" fill="#27468c"/>
<circle cx="178.8" cy="78.4" r="1.0" fill="#27468c"/>
<circle cx="209.5" cy="71.9" r="1.0" fill="#27468c"/>
<circle cx="238.0" cy="67.5" r="1.0" fill="#27468c"/>
<circle cx="191.8" cy="80.2" r="1.0" fill="#27468c"/>
<circle cx="232.5" cy="75.2" r="1.0" fill="#dd2222"/>
<circle cx="167.8" cy="80.0" r="1.0" fill="#27468c"/>
<circle cx="241.0" cy="80.9" r="1.0" fill="#dd2222"/>
<circle cx="215.2" cy="82.4" r="1.0" fill="#27468c"/>
<text x="245.3" y="58.1" font-size="4.4" text-anchor="start" fill="#000" stroke="#000" stroke-width="0.06" >Status</text>
<circle cx="248.3" cy="63.2" r="1.0" fill="#27468c"/>
<text x="252.8" y="64.6" font-size="4.4" text-anchor="start" fill="#000" stroke="#000" stroke-width="0.06" >Alive</text>
<circle cx="248.3" cy="68.5" r="1.0" fill="#dd2222"/>
<text x="252.8" y="70.1" font-size="4.4" text-anchor="start" fill="#000" stroke="#000" stroke-width="0.06" >Dead</text>
<rect x="155.5" y="87.6" width="44" height="2.7" fill="#27468c"/>
<rect x="199.5" y="87.6" width="43.5" height="2.7" fill="#dd2222"/>
<defs><filter id="hb" x="0" y="0" width="1" height="1"><feGaussianBlur stdDeviation="0.45 0.3"/></filter></defs><g filter="url(#hb)">
<rect x="155.50" y="91.00" width="1.14" height="8.14" fill="#39589e"/>
<rect x="156.49" y="91.00" width="1.14" height="8.14" fill="#284a96"/>
<rect x="157.49" y="91.00" width="1.14" height="8.14" fill="#5d76af"/>
<rect x="158.48" y="91.00" width="1.14" height="8.14" fill="#284a96"/>
<rect x="159.48" y="91.00" width="1.14" height="8.14" fill="#546fab"/>
<rect x="160.47" y="91.00" width="1.14" height="8.14" fill="#284a96"/>
<rect x="161.47" y="91.00" width="1.14" height="8.14" fill="#637ab2"/>
<rect x="162.46" y="91.00" width="1.14" height="8.14" fill="#2b4c97"/>
<rect x="163.45" y="91.00" width="1.14" height="8.14" fill="#8899c4"/>
<rect x="164.45" y="91.00" width="1.14" height="8.14" fill="#506ba9"/>
<rect x="165.44" y="91.00" width="1.14" height="8.14" fill="#7f92c0"/>
<rect x="166.44" y="91.00" width="1.14" height="8.14" fill="#556fac"/>
<rect x="167.43" y="91.00" width="1.14" height="8.14" fill="#415fa2"/>
<rect x="168.43" y="91.00" width="1.14" height="8.14" fill="#7085b8"/>
<rect x="169.42" y="91.00" width="1.14" height="8.14" fill="#284a96"/>
<rect x="170.41" y="91.00" width="1.14" height="8.14" fill="#4d68a7"/>
<rect x="171.41" y="91.00" width="1.14" height="8.14" fill="#7086b8"/>
<rect x="172.40" y="91.00" width="1.14" height="8.14" fill="#7489ba"/>
<rect x="173.40" y="91.00" width="1.14" height="8.14" fill="#8698c3"/>
<rect x="174.39" y="91.00" width="1.14" height="8.14" fill="#ccd2e4"/>
<rect x="175.39" y="91.00" width="1.14" height="8.14" fill="#8a9bc5"/>
<rect x="176.38" y="91.00" width="1.14" height="8.14" fill="#687fb4"/>
<rect x="177.38" y="91.00" width="1.14" height="8.14" fill="#8395c1"/>
<rect x="178.37" y="91.00" width="1.14" height="8.14" fill="#637ab2"/>
<rect x="179.36" y="91.00" width="1.14" height="8.14" fill="#6c82b6"/>
<rect x="180.36" y="91.00" width="1.14" height="8.14" fill="#4c67a7"/>
<rect x="181.35" y="91.00" width="1.14" height="8.14" fill="#b2bcd7"/>
<rect x="182.35" y="91.00" width="1.14" height="8.14" fill="#6f84b8"/>
<rect x="183.34" y="91.00" width="1.14" height="8.14" fill="#9ba9cd"/>
<rect x="184.34" y="91.00" width="1.14" height="8.14" fill="#acb7d5"/>
<rect x="185.33" y="91.00" width="1.14" height="8.14" fill="#dee0ed"/>
<rect x="186.32" y="91.00" width="1.14" height="8.14" fill="#a2afd0"/>
<rect x="187.32" y="91.00" width="1.14" height="8.14" fill="#768abb"/>
<rect x="188.31" y="91.00" width="1.14" height="8.14" fill="#dee0ed"/>
<rect x="189.31" y="91.00" width="1.14" height="8.14" fill="#8698c3"/>
<rect x="190.30" y="91.00" width="1.14" height="8.14" fill="#8b9bc5"/>
<rect x="191.30" y="91.00" width="1.14" height="8.14" fill="#c6cde1"/>
<rect x="192.29" y="91.00" width="1.14" height="8.14" fill="#dee0ed"/>
<rect x="193.28" y="91.00" width="1.14" height="8.14" fill="#637bb2"/>
<rect x="194.28" y="91.00" width="1.14" height="8.14" fill="#546eab"/>
<rect x="195.27" y="91.00" width="1.14" height="8.14" fill="#abb6d4"/>
<rect x="196.27" y="91.00" width="1.14" height="8.14" fill="#96a5ca"/>
<rect x="197.26" y="91.00" width="1.14" height="8.14" fill="#92a2c9"/>
<rect x="198.26" y="91.00" width="1.14" height="8.14" fill="#c2c9df"/>
<rect x="199.25" y="91.00" width="1.14" height="8.14" fill="#8e9ec6"/>
<rect x="200.24" y="91.00" width="1.14" height="8.14" fill="#e6e7f0"/>
<rect x="201.24" y="91.00" width="1.14" height="8.14" fill="#bbc4dc"/>
<rect x="202.23" y="91.00" width="1.14" height="8.14" fill="#dee0ec"/>
<rect x="203.23" y="91.00" width="1.14" height="8.14" fill="#bec6de"/>
<rect x="204.22" y="91.00" width="1.14" height="8.14" fill="#b7c0da"/>
<rect x="205.22" y="91.00" width="1.14" height="8.14" fill="#bac2db"/>
<rect x="206.21" y="91.00" width="1.14" height="8.14" fill="#c9cfe3"/>
<rect x="207.20" y="91.00" width="1.14" height="8.14" fill="#c7cee2"/>
<rect x="208.20" y="91.00" width="1.14" height="8.14" fill="#9daacd"/>
<rect x="209.19" y="91.00" width="1.14" height="8.14" fill="#aeb9d6"/>
<rect x="210.19" y="91.00" width="1.14" height="8.14" fill="#e2e3ee"/>
<rect x="211.18" y="91.00" width="1.14" height="8.14" fill="#c6cce1"/>
<rect x="212.18" y="91.00" width="1.14" height="8.14" fill="#b2bcd7"/>
<rect x="213.17" y="91.00" width="1.14" height="8.14" fill="#c2c9df"/>
<rect x="214.16" y="91.00" width="1.14" height="8.14" fill="#bac3dc"/>
<rect x="215.16" y="91.00" width="1.14" height="8.14" fill="#c1c8df"/>
<rect x="216.15" y="91.00" width="1.14" height="8.14" fill="#c2c9df"/>
<rect x="217.15" y="91.00" width="1.14" height="8.14" fill="#e9e9f2"/>
<rect x="218.14" y="91.00" width="1.14" height="8.14" fill="#e5e6f0"/>
<rect x="219.14" y="91.00" width="1.14" height="8.14" fill="#cbd1e4"/>
<rect x="220.13" y="91.00" width="1.14" height="8.14" fill="#d4d8e8"/>
<rect x="221.12" y="91.00" width="1.14" height="8.14" fill="#d6dae9"/>
<rect x="222.12" y="91.00" width="1.14" height="8.14" fill="#f5eff2"/>
<rect x="223.11" y="91.00" width="1.14" height="8.14" fill="#e5e6f0"/>
<rect x="224.11" y="91.00" width="1.14" height="8.14" fill="#f6f2f5"/>
<rect x="225.10" y="91.00" width="1.14" height="8.14" fill="#f5eef1"/>
<rect x="226.10" y="91.00" width="1.14" height="8.14" fill="#f5ecef"/>
<rect x="227.09" y="91.00" width="1.14" height="8.14" fill="#f4e6e7"/>
<rect x="228.09" y="91.00" width="1.14" height="8.14" fill="#efeef5"/>
<rect x="229.08" y="91.00" width="1.14" height="8.14" fill="#ced3e5"/>
<rect x="230.07" y="91.00" width="1.14" height="8.14" fill="#f5ebee"/>
<rect x="231.07" y="91.00" width="1.14" height="8.14" fill="#cad0e3"/>
<rect x="232.06" y="91.00" width="1.14" height="8.14" fill="#dee1ed"/>
<rect x="233.06" y="91.00" width="1.14" height="8.14" fill="#f5e8ea"/>
<rect x="234.05" y="91.00" width="1.14" height="8.14" fill="#f2d4d3"/>
<rect x="235.05" y="91.00" width="1.14" height="8.14" fill="#f4ddde"/>
<rect x="236.04" y="91.00" width="1.14" height="8.14" fill="#e4e5ef"/>
<rect x="237.03" y="91.00" width="1.14" height="8.14" fill="#f1c7c4"/>
<rect x="238.03" y="91.00" width="1.14" height="8.14" fill="#f0bbb7"/>
<rect x="239.02" y="91.00" width="1.14" height="8.14" fill="#efb6b1"/>
<rect x="240.02" y="91.00" width="1.14" height="8.14" fill="#f1c3c0"/>
<rect x="241.01" y="91.00" width="1.14" height="8.14" fill="#efb4ae"/>
<rect x="242.01" y="91.00" width="1.14" height="8.14" fill="#e8796b"/>
<rect x="155.50" y="99.04" width="1.14" height="8.14" fill="#284a96"/>
<rect x="156.49" y="99.04" width="1.14" height="8.14" fill="#36569d"/>
<rect x="157.49" y="99.04" width="1.14" height="8.14" fill="#7388ba"/>
<rect x="158.48" y="99.04" width="1.14" height="8.14" fill="#284a96"/>
<rect x="159.48" y="99.04" width="1.14" height="8.14" fill="#4360a3"/>
<rect x="160.47" y="99.04" width="1.14" height="8.14" fill="#284a96"/>
<rect x="161.47" y="99.04" width="1.14" height="8.14" fill="#778bbb"/>
<rect x="162.46" y="99.04" width="1.14" height="8.14" fill="#536eab"/>
<rect x="163.45" y="99.04" width="1.14" height="8.14" fill="#899ac4"/>
<rect x="164.45" y="99.04" width="1.14" height="8.14" fill="#37569d"/>
<rect x="165.44" y="99.04" width="1.14" height="8.14" fill="#6279b1"/>
<rect x="166.44" y="99.04" width="1.14" height="8.14" fill="#4865a5"/>
<rect x="167.43" y="99.04" width="1.14" height="8.14" fill="#37579d"/>
<rect x="168.43" y="99.04" width="1.14" height="8.14" fill="#556fab"/>
<rect x="169.42" y="99.04" width="1.14" height="8.14" fill="#2f5099"/>
<rect x="170.41" y="99.04" width="1.14" height="8.14" fill="#4a66a6"/>
<rect x="171.41" y="99.04" width="1.14" height="8.14" fill="#8c9cc6"/>
<rect x="172.40" y="99.04" width="1.14" height="8.14" fill="#7186b9"/>
<rect x="173.40" y="99.04" width="1.14" height="8.14" fill="#4c68a7"/>
<rect x="174.39" y="99.04" width="1.14" height="8.14" fill="#c8cee2"/>
<rect x="175.39" y="99.04" width="1.14" height="8.14" fill="#7b8fbe"/>
<rect x="176.38" y="99.04" width="1.14" height="8.14" fill="#7d90be"/>
<rect x="177.38" y="99.04" width="1.14" height="8.14" fill="#7a8ebd"/>
<rect x="178.37" y="99.04" width="1.14" height="8.14" fill="#677eb4"/>
<rect x="179.36" y="99.04" width="1.14" height="8.14" fill="#657cb3"/>
<rect x="180.36" y="99.04" width="1.14" height="8.14" fill="#768bbb"/>
<rect x="181.35" y="99.04" width="1.14" height="8.14" fill="#d4d8e8"/>
<rect x="182.35" y="99.04" width="1.14" height="8.14" fill="#8899c4"/>
<rect x="183.34" y="99.04" width="1.14" height="8.14" fill="#8899c4"/>
<rect x="184.34" y="99.04" width="1.14" height="8.14" fill="#abb6d4"/>
<rect x="185.33" y="99.04" width="1.14" height="8.14" fill="#d6dae9"/>
<rect x="186.32" y="99.04" width="1.14" height="8.14" fill="#8b9bc5"/>
<rect x="187.32" y="99.04" width="1.14" height="8.14" fill="#6b81b6"/>
<rect x="188.31" y="99.04" width="1.14" height="8.14" fill="#dee0ed"/>
<rect x="189.31" y="99.04" width="1.14" height="8.14" fill="#546eab"/>
<rect x="190.30" y="99.04" width="1.14" height="8.14" fill="#7c8fbe"/>
<rect x="191.30" y="99.04" width="1.14" height="8.14" fill="#b4bed9"/>
<rect x="192.29" y="99.04" width="1.14" height="8.14" fill="#dee0ed"/>
<rect x="193.28" y="99.04" width="1.14" height="8.14" fill="#90a0c8"/>
<rect x="194.28" y="99.04" width="1.14" height="8.14" fill="#526caa"/>
<rect x="195.27" y="99.04" width="1.14" height="8.14" fill="#b7c0da"/>
<rect x="196.27" y="99.04" width="1.14" height="8.14" fill="#a6b2d2"/>
<rect x="197.26" y="99.04" width="1.14" height="8.14" fill="#b5bfd9"/>
<rect x="198.26" y="99.04" width="1.14" height="8.14" fill="#d5d9e8"/>
<rect x="199.25" y="99.04" width="1.14" height="8.14" fill="#b1bbd7"/>
<rect x="200.24" y="99.04" width="1.14" height="8.14" fill="#bdc5dd"/>
<rect x="201.24" y="99.04" width="1.14" height="8.14" fill="#9ba9cd"/>
<rect x="202.23" y="99.04" width="1.14" height="8.14" fill="#dfe1ed"/>
<rect x="203.23" y="99.04" width="1.14" height="8.14" fill="#bfc6de"/>
<rect x="204.22" y="99.04" width="1.14" height="8.14" fill="#b4bed9"/>
<rect x="205.22" y="99.04" width="1.14" height="8.14" fill="#9caacd"/>
<rect x="206.21" y="99.04" width="1.14" height="8.14" fill="#b7c0da"/>
<rect x="207.20" y="99.04" width="1.14" height="8.14" fill="#c8cee2"/>
<rect x="208.20" y="99.04" width="1.14" height="8.14" fill="#a7b3d2"/>
<rect x="209.19" y="99.04" width="1.14" height="8.14" fill="#c1c8df"/>
<rect x="210.19" y="99.04" width="1.14" height="8.14" fill="#c2c9df"/>
<rect x="211.18" y="99.04" width="1.14" height="8.14" fill="#bfc7de"/>
<rect x="212.18" y="99.04" width="1.14" height="8.14" fill="#c7cde2"/>
<rect x="213.17" y="99.04" width="1.14" height="8.14" fill="#c0c7de"/>
<rect x="214.16" y="99.04" width="1.14" height="8.14" fill="#c2c9df"/>
<rect x="215.16" y="99.04" width="1.14" height="8.14" fill="#ededf4"/>
<rect x="216.15" y="99.04" width="1.14" height="8.14" fill="#aeb8d6"/>
<rect x="217.15" y="99.04" width="1.14" height="8.14" fill="#e2e4ef"/>
<rect x="218.14" y="99.04" width="1.14" height="8.14" fill="#cfd4e6"/>
<rect x="219.14" y="99.04" width="1.14" height="8.14" fill="#cacfe3"/>
<rect x="220.13" y="99.04" width="1.14" height="8.14" fill="#e7e7f1"/>
<rect x="221.12" y="99.04" width="1.14" height="8.14" fill="#ececf3"/>
<rect x="222.12" y="99.04" width="1.14" height="8.14" fill="#e7e8f1"/>
<rect x="223.11" y="99.04" width="1.14" height="8.14" fill="#eaeaf2"/>
<rect x="224.11" y="99.04" width="1.14" height="8.14" fill="#f5ecef"/>
<rect x="225.10" y="99.04" width="1.14" height="8.14" fill="#d9dcea"/>
<rect x="226.10" y="99.04" width="1.14" height="8.14" fill="#ebebf3"/>
<rect x="227.09" y="99.04" width="1.14" height="8.14" fill="#f5ecef"/>
<rect x="228.09" y="99.04" width="1.14" height="8.14" fill="#e4e5f0"/>
<rect x="229.08" y="99.04" width="1.14" height="8.14" fill="#e6e7f1"/>
<rect x="230.07" y="99.04" width="1.14" height="8.14" fill="#f5e8ea"/>
<rect x="231.07" y="99.04" width="1.14" height="8.14" fill="#e3e5ef"/>
<rect x="232.06" y="99.04" width="1.14" height="8.14" fill="#f0eff5"/>
<rect x="233.06" y="99.04" width="1.14" height="8.14" fill="#f2cfce"/>
<rect x="234.05" y="99.04" width="1.14" height="8.14" fill="#f4e2e3"/>
<rect x="235.05" y="99.04" width="1.14" height="8.14" fill="#f4e1e3"/>
<rect x="236.04" y="99.04" width="1.14" height="8.14" fill="#f6f2f5"/>
<rect x="237.03" y="99.04" width="1.14" height="8.14" fill="#efb4ae"/>
<rect x="238.03" y="99.04" width="1.14" height="8.14" fill="#f1c9c7"/>
<rect x="239.02" y="99.04" width="1.14" height="8.14" fill="#f1c5c2"/>
<rect x="240.02" y="99.04" width="1.14" height="8.14" fill="#efb6b1"/>
<rect x="241.01" y="99.04" width="1.14" height="8.14" fill="#f0bebb"/>
<rect x="242.01" y="99.04" width="1.14" height="8.14" fill="#e8796b"/>
<rect x="155.50" y="107.08" width="1.14" height="8.14" fill="#32529b"/>
<rect x="156.49" y="107.08" width="1.14" height="8.14" fill="#30519a"/>
<rect x="157.49" y="107.08" width="1.14" height="8.14" fill="#546eab"/>
<rect x="158.48" y="107.08" width="1.14" height="8.14" fill="#284a96"/>
<rect x="159.48" y="107.08" width="1.14" height="8.14" fill="#526daa"/>
<rect x="160.47" y="107.08" width="1.14" height="8.14" fill="#284a96"/>
<rect x="161.47" y="107.08" width="1.14" height="8.14" fill="#8d9ec6"/>
<rect x="162.46" y="107.08" width="1.14" height="8.14" fill="#5f78b0"/>
<rect x="163.45" y="107.08" width="1.14" height="8.14" fill="#7f92bf"/>
<rect x="164.45" y="107.08" width="1.14" height="8.14" fill="#7287b9"/>
<rect x="165.44" y="107.08" width="1.14" height="8.14" fill="#6d83b7"/>
<rect x="166.44" y="107.08" width="1.14" height="8.14" fill="#4b67a7"/>
<rect x="167.43" y="107.08" width="1.14" height="8.14" fill="#4a66a6"/>
<rect x="168.43" y="107.08" width="1.14" height="8.14" fill="#7388ba"/>
<rect x="169.42" y="107.08" width="1.14" height="8.14" fill="#4d69a8"/>
<rect x="170.41" y="107.08" width="1.14" height="8.14" fill="#5d76af"/>
<rect x="171.41" y="107.08" width="1.14" height="8.14" fill="#7287b9"/>
<rect x="172.40" y="107.08" width="1.14" height="8.14" fill="#637bb2"/>
<rect x="173.40" y="107.08" width="1.14" height="8.14" fill="#556fab"/>
<rect x="174.39" y="107.08" width="1.14" height="8.14" fill="#a8b4d3"/>
<rect x="175.39" y="107.08" width="1.14" height="8.14" fill="#768abb"/>
<rect x="176.38" y="107.08" width="1.14" height="8.14" fill="#5b74ae"/>
<rect x="177.38" y="107.08" width="1.14" height="8.14" fill="#7f92bf"/>
<rect x="178.37" y="107.08" width="1.14" height="8.14" fill="#5c75af"/>
<rect x="179.36" y="107.08" width="1.14" height="8.14" fill="#627ab2"/>
<rect x="180.36" y="107.08" width="1.14" height="8.14" fill="#7186b9"/>
<rect x="181.35" y="107.08" width="1.14" height="8.14" fill="#c2c9df"/>
<rect x="182.35" y="107.08" width="1.14" height="8.14" fill="#9aa8cc"/>
<rect x="183.34" y="107.08" width="1.14" height="8.14" fill="#7c90be"/>
<rect x="184.34" y="107.08" width="1.14" height="8.14" fill="#a4b0d1"/>
<rect x="185.33" y="107.08" width="1.14" height="8.14" fill="#d3d8e8"/>
<rect x="186.32" y="107.08" width="1.14" height="8.14" fill="#6f85b8"/>
<rect x="187.32" y="107.08" width="1.14" height="8.14" fill="#8899c4"/>
<rect x="188.31" y="107.08" width="1.14" height="8.14" fill="#dee0ed"/>
<rect x="189.31" y="107.08" width="1.14" height="8.14" fill="#425fa2"/>
<rect x="190.30" y="107.08" width="1.14" height="8.14" fill="#96a5ca"/>
<rect x="191.30" y="107.08" width="1.14" height="8.14" fill="#c4cbe0"/>
<rect x="192.29" y="107.08" width="1.14" height="8.14" fill="#dee0ed"/>
<rect x="193.28" y="107.08" width="1.14" height="8.14" fill="#9dabce"/>
<rect x="194.28" y="107.08" width="1.14" height="8.14" fill="#546fab"/>
<rect x="195.27" y="107.08" width="1.14" height="8.14" fill="#a5b1d1"/>
<rect x="196.27" y="107.08" width="1.14" height="8.14" fill="#9eacce"/>
<rect x="197.26" y="107.08" width="1.14" height="8.14" fill="#94a3c9"/>
<rect x="198.26" y="107.08" width="1.14" height="8.14" fill="#a2aed0"/>
<rect x="199.25" y="107.08" width="1.14" height="8.14" fill="#8d9dc6"/>
<rect x="200.24" y="107.08" width="1.14" height="8.14" fill="#bec6de"/>
<rect x="201.24" y="107.08" width="1.14" height="8.14" fill="#94a3c9"/>
<rect x="202.23" y="107.08" width="1.14" height="8.14" fill="#f6f2f6"/>
<rect x="203.23" y="107.08" width="1.14" height="8.14" fill="#cdd2e5"/>
<rect x="204.22" y="107.08" width="1.14" height="8.14" fill="#b1bbd7"/>
<rect x="205.22" y="107.08" width="1.14" height="8.14" fill="#adb8d5"/>
<rect x="206.21" y="107.08" width="1.14" height="8.14" fill="#d9dcea"/>
<rect x="207.20" y="107.08" width="1.14" height="8.14" fill="#d7dbe9"/>
<rect x="208.20" y="107.08" width="1.14" height="8.14" fill="#b9c2db"/>
<rect x="209.19" y="107.08" width="1.14" height="8.14" fill="#b7c0da"/>
<rect x="210.19" y="107.08" width="1.14" height="8.14" fill="#c5cce1"/>
<rect x="211.18" y="107.08" width="1.14" height="8.14" fill="#bfc7de"/>
<rect x="212.18" y="107.08" width="1.14" height="8.14" fill="#d6d9e9"/>
<rect x="213.17" y="107.08" width="1.14" height="8.14" fill="#d1d6e6"/>
<rect x="214.16" y="107.08" width="1.14" height="8.14" fill="#c7cde2"/>
<rect x="215.16" y="107.08" width="1.14" height="8.14" fill="#bfc6de"/>
<rect x="216.15" y="107.08" width="1.14" height="8.14" fill="#b7c0da"/>
<rect x="217.15" y="107.08" width="1.14" height="8.14" fill="#e0e2ee"/>
<rect x="218.14" y="107.08" width="1.14" height="8.14" fill="#d6dae9"/>
<rect x="219.14" y="107.08" width="1.14" height="8.14" fill="#d2d6e7"/>
<rect x="220.13" y="107.08" width="1.14" height="8.14" fill="#f6f3f6"/>
<rect x="221.12" y="107.08" width="1.14" height="8.14" fill="#e1e2ee"/>
<rect x="222.12" y="107.08" width="1.14" height="8.14" fill="#d8dbea"/>
<rect x="223.11" y="107.08" width="1.14" height="8.14" fill="#f4f3f7"/>
<rect x="224.11" y="107.08" width="1.14" height="8.14" fill="#f3dada"/>
<rect x="225.10" y="107.08" width="1.14" height="8.14" fill="#f3f1f7"/>
<rect x="226.10" y="107.08" width="1.14" height="8.14" fill="#edecf4"/>
<rect x="227.09" y="107.08" width="1.14" height="8.14" fill="#f3d9d9"/>
<rect x="228.09" y="107.08" width="1.14" height="8.14" fill="#dee0ec"/>
<rect x="229.08" y="107.08" width="1.14" height="8.14" fill="#f4e0e1"/>
<rect x="230.07" y="107.08" width="1.14" height="8.14" fill="#f6f3f6"/>
<rect x="231.07" y="107.08" width="1.14" height="8.14" fill="#d6dae9"/>
<rect x="232.06" y="107.08" width="1.14" height="8.14" fill="#eeedf4"/>
<rect x="233.06" y="107.08" width="1.14" height="8.14" fill="#f4dede"/>
<rect x="234.05" y="107.08" width="1.14" height="8.14" fill="#f4e3e4"/>
<rect x="235.05" y="107.08" width="1.14" height="8.14" fill="#f5e8eb"/>
<rect x="236.04" y="107.08" width="1.14" height="8.14" fill="#e3e4ef"/>
<rect x="237.03" y="107.08" width="1.14" height="8.14" fill="#f0bebb"/>
<rect x="238.03" y="107.08" width="1.14" height="8.14" fill="#f2ccca"/>
<rect x="239.02" y="107.08" width="1.14" height="8.14" fill="#f1c3c0"/>
<rect x="240.02" y="107.08" width="1.14" height="8.14" fill="#eea8a1"/>
<rect x="241.01" y="107.08" width="1.14" height="8.14" fill="#f0c1be"/>
<rect x="242.01" y="107.08" width="1.14" height="8.14" fill="#e8796b"/>
<rect x="155.50" y="115.12" width="1.14" height="8.14" fill="#2b4c97"/>
<rect x="156.49" y="115.12" width="1.14" height="8.14" fill="#284a96"/>
<rect x="157.49" y="115.12" width="1.14" height="8.14" fill="#6e84b7"/>
<rect x="158.48" y="115.12" width="1.14" height="8.14" fill="#284a96"/>
<rect x="159.48" y="115.12" width="1.14" height="8.14" fill="#516caa"/>
<rect x="160.47" y="115.12" width="1.14" height="8.14" fill="#284a96"/>
<rect x="161.47" y="115.12" width="1.14" height="8.14" fill="#5f78b0"/>
<rect x="162.46" y="115.12" width="1.14" height="8.14" fill="#516caa"/>
<rect x="163.45" y="115.12" width="1.14" height="8.14" fill="#8c9cc5"/>
<rect x="164.45" y="115.12" width="1.14" height="8.14" fill="#4663a4"/>
<rect x="165.44" y="115.12" width="1.14" height="8.14" fill="#5d76af"/>
<rect x="166.44" y="115.12" width="1.14" height="8.14" fill="#5d76af"/>
<rect x="167.43" y="115.12" width="1.14" height="8.14" fill="#3c5ba0"/>
<rect x="168.43" y="115.12" width="1.14" height="8.14" fill="#5e76b0"/>
<rect x="169.42" y="115.12" width="1.14" height="8.14" fill="#4e6aa8"/>
<rect x="170.41" y="115.12" width="1.14" height="8.14" fill="#5871ad"/>
<rect x="171.41" y="115.12" width="1.14" height="8.14" fill="#9ca9cd"/>
<rect x="172.40" y="115.12" width="1.14" height="8.14" fill="#788cbc"/>
<rect x="173.40" y="115.12" width="1.14" height="8.14" fill="#7086b8"/>
<rect x="174.39" y="115.12" width="1.14" height="8.14" fill="#d5d9e8"/>
<rect x="175.39" y="115.12" width="1.14" height="8.14" fill="#516caa"/>
<rect x="176.38" y="115.12" width="1.14" height="8.14" fill="#627ab2"/>
<rect x="177.38" y="115.12" width="1.14" height="8.14" fill="#687eb4"/>
<rect x="178.37" y="115.12" width="1.14" height="8.14" fill="#627ab2"/>
<rect x="179.36" y="115.12" width="1.14" height="8.14" fill="#6f85b8"/>
<rect x="180.36" y="115.12" width="1.14" height="8.14" fill="#8a9bc5"/>
<rect x="181.35" y="115.12" width="1.14" height="8.14" fill="#c9cfe2"/>
<rect x="182.35" y="115.12" width="1.14" height="8.14" fill="#a3afd0"/>
<rect x="183.34" y="115.12" width="1.14" height="8.14" fill="#8395c1"/>
<rect x="184.34" y="115.12" width="1.14" height="8.14" fill="#9faccf"/>
<rect x="185.33" y="115.12" width="1.14" height="8.14" fill="#d6dae9"/>
<rect x="186.32" y="115.12" width="1.14" height="8.14" fill="#97a6cb"/>
<rect x="187.32" y="115.12" width="1.14" height="8.14" fill="#7a8ebd"/>
<rect x="188.31" y="115.12" width="1.14" height="8.14" fill="#dee0ed"/>
<rect x="189.31" y="115.12" width="1.14" height="8.14" fill="#5f78b0"/>
<rect x="190.30" y="115.12" width="1.14" height="8.14" fill="#7287b9"/>
<rect x="191.30" y="115.12" width="1.14" height="8.14" fill="#cad0e3"/>
<rect x="192.29" y="115.12" width="1.14" height="8.14" fill="#dee0ed"/>
<rect x="193.28" y="115.12" width="1.14" height="8.14" fill="#8698c3"/>
<rect x="194.28" y="115.12" width="1.14" height="8.14" fill="#5670ac"/>
<rect x="195.27" y="115.12" width="1.14" height="8.14" fill="#afbad6"/>
<rect x="196.27" y="115.12" width="1.14" height="8.14" fill="#8c9dc6"/>
<rect x="197.26" y="115.12" width="1.14" height="8.14" fill="#aab5d4"/>
<rect x="198.26" y="115.12" width="1.14" height="8.14" fill="#acb7d5"/>
<rect x="199.25" y="115.12" width="1.14" height="8.14" fill="#a6b2d2"/>
<rect x="200.24" y="115.12" width="1.14" height="8.14" fill="#dbddeb"/>
<rect x="201.24" y="115.12" width="1.14" height="8.14" fill="#c0c7de"/>
<rect x="202.23" y="115.12" width="1.14" height="8.14" fill="#eeedf4"/>
<rect x="203.23" y="115.12" width="1.14" height="8.14" fill="#cfd4e5"/>
<rect x="204.22" y="115.12" width="1.14" height="8.14" fill="#b9c2db"/>
<rect x="205.22" y="115.12" width="1.14" height="8.14" fill="#c2c9df"/>
<rect x="206.21" y="115.12" width="1.14" height="8.14" fill="#bfc7de"/>
<rect x="207.20" y="115.12" width="1.14" height="8.14" fill="#c4cbe0"/>
<rect x="208.20" y="115.12" width="1.14" height="8.14" fill="#b6bfda"/>
<rect x="209.19" y="115.12" width="1.14" height="8.14" fill="#cbd0e3"/>
<rect x="210.19" y="115.12" width="1.14" height="8.14" fill="#ced3e5"/>
<rect x="211.18" y="115.12" width="1.14" height="8.14" fill="#c6cce1"/>
<rect x="212.18" y="115.12" width="1.14" height="8.14" fill="#bdc5dd"/>
<rect x="213.17" y="115.12" width="1.14" height="8.14" fill="#c4cbe0"/>
<rect x="214.16" y="115.12" width="1.14" height="8.14" fill="#c3cae0"/>
<rect x="215.16" y="115.12" width="1.14" height="8.14" fill="#ced3e5"/>
<rect x="216.15" y="115.12" width="1.14" height="8.14" fill="#bfc6de"/>
<rect x="217.15" y="115.12" width="1.14" height="8.14" fill="#e3e4ef"/>
<rect x="218.14" y="115.12" width="1.14" height="8.14" fill="#cfd4e5"/>
<rect x="219.14" y="115.12" width="1.14" height="8.14" fill="#c4cbe0"/>
<rect x="220.13" y="115.12" width="1.14" height="8.14" fill="#ececf3"/>
<rect x="221.12" y="115.12" width="1.14" height="8.14" fill="#e8e9f1"/>
<rect x="222.12" y="115.12" width="1.14" height="8.14" fill="#cdd2e5"/>
<rect x="223.11" y="115.12" width="1.14" height="8.14" fill="#f6f3f7"/>
<rect x="224.11" y="115.12" width="1.14" height="8.14" fill="#f6f1f5"/>
<rect x="225.10" y="115.12" width="1.14" height="8.14" fill="#f6f2f6"/>
<rect x="226.10" y="115.12" width="1.14" height="8.14" fill="#f4f3f7"/>
<rect x="227.09" y="115.12" width="1.14" height="8.14" fill="#f5eef2"/>
<rect x="228.09" y="115.12" width="1.14" height="8.14" fill="#d2d6e7"/>
<rect x="229.08" y="115.12" width="1.14" height="8.14" fill="#e4e5ef"/>
<rect x="230.07" y="115.12" width="1.14" height="8.14" fill="#efeff5"/>
<rect x="231.07" y="115.12" width="1.14" height="8.14" fill="#daddeb"/>
<rect x="232.06" y="115.12" width="1.14" height="8.14" fill="#f6f4f8"/>
<rect x="233.06" y="115.12" width="1.14" height="8.14" fill="#f4e0e1"/>
<rect x="234.05" y="115.12" width="1.14" height="8.14" fill="#f3dbdc"/>
<rect x="235.05" y="115.12" width="1.14" height="8.14" fill="#f3d5d4"/>
<rect x="236.04" y="115.12" width="1.14" height="8.14" fill="#f6f4f8"/>
<rect x="237.03" y="115.12" width="1.14" height="8.14" fill="#f0bdb9"/>
<rect x="238.03" y="115.12" width="1.14" height="8.14" fill="#f1c8c6"/>
<rect x="239.02" y="115.12" width="1.14" height="8.14" fill="#f2d0ce"/>
<rect x="240.02" y="115.12" width="1.14" height="8.14" fill="#efb7b2"/>
<rect x="241.01" y="115.12" width="1.14" height="8.14" fill="#f2cecd"/>
<rect x="242.01" y="115.12" width="1.14" height="8.14" fill="#e8796b"/>
<rect x="155.50" y="123.16" width="1.14" height="8.14" fill="#294b96"/>
<rect x="156.49" y="123.16" width="1.14" height="8.14" fill="#2c4e98"/>
<rect x="157.49" y="123.16" width="1.14" height="8.14" fill="#5670ac"/>
<rect x="158.48" y="123.16" width="1.14" height="8.14" fill="#284a96"/>
<rect x="159.48" y="123.16" width="1.14" height="8.14" fill="#536eaa"/>
<rect x="160.47" y="123.16" width="1.14" height="8.14" fill="#284a96"/>
<rect x="161.47" y="123.16" width="1.14" height="8.14" fill="#788cbc"/>
<rect x="162.46" y="123.16" width="1.14" height="8.14" fill="#6b81b6"/>
<rect x="163.45" y="123.16" width="1.14" height="8.14" fill="#8d9dc6"/>
<rect x="164.45" y="123.16" width="1.14" height="8.14" fill="#5771ad"/>
<rect x="165.44" y="123.16" width="1.14" height="8.14" fill="#6c82b6"/>
<rect x="166.44" y="123.16" width="1.14" height="8.14" fill="#6a81b5"/>
<rect x="167.43" y="123.16" width="1.14" height="8.14" fill="#7086b8"/>
<rect x="168.43" y="123.16" width="1.14" height="8.14" fill="#7186b9"/>
<rect x="169.42" y="123.16" width="1.14" height="8.14" fill="#284a96"/>
<rect x="170.41" y="123.16" width="1.14" height="8.14" fill="#7b8ebd"/>
<rect x="171.41" y="123.16" width="1.14" height="8.14" fill="#788cbc"/>
<rect x="172.40" y="123.16" width="1.14" height="8.14" fill="#5872ad"/>
<rect x="173.40" y="123.16" width="1.14" height="8.14" fill="#3c5a9f"/>
<rect x="174.39" y="123.16" width="1.14" height="8.14" fill="#c6cce1"/>
<rect x="175.39" y="123.16" width="1.14" height="8.14" fill="#899ac4"/>
<rect x="176.38" y="123.16" width="1.14" height="8.14" fill="#7589ba"/>
<rect x="177.38" y="123.16" width="1.14" height="8.14" fill="#778bbc"/>
<rect x="178.37" y="123.16" width="1.14" height="8.14" fill="#8395c1"/>
<rect x="179.36" y="123.16" width="1.14" height="8.14" fill="#7085b8"/>
<rect x="180.36" y="123.16" width="1.14" height="8.14" fill="#6a81b5"/>
<rect x="181.35" y="123.16" width="1.14" height="8.14" fill="#cbd0e3"/>
<rect x="182.35" y="123.16" width="1.14" height="8.14" fill="#899ac4"/>
<rect x="183.34" y="123.16" width="1.14" height="8.14" fill="#8d9ec6"/>
<rect x="184.34" y="123.16" width="1.14" height="8.14" fill="#a7b3d3"/>
<rect x="185.33" y="123.16" width="1.14" height="8.14" fill="#a9b4d3"/>
<rect x="186.32" y="123.16" width="1.14" height="8.14" fill="#a2afd0"/>
<rect x="187.32" y="123.16" width="1.14" height="8.14" fill="#7287b9"/>
<rect x="188.31" y="123.16" width="1.14" height="8.14" fill="#dee0ed"/>
<rect x="189.31" y="123.16" width="1.14" height="8.14" fill="#5871ad"/>
<rect x="190.30" y="123.16" width="1.14" height="8.14" fill="#8e9ec6"/>
<rect x="191.30" y="123.16" width="1.14" height="8.14" fill="#aeb8d6"/>
<rect x="192.29" y="123.16" width="1.14" height="8.14" fill="#d1d6e6"/>
<rect x="193.28" y="123.16" width="1.14" height="8.14" fill="#8597c2"/>
<rect x="194.28" y="123.16" width="1.14" height="8.14" fill="#5c75af"/>
<rect x="195.27" y="123.16" width="1.14" height="8.14" fill="#a6b2d2"/>
<rect x="196.27" y="123.16" width="1.14" height="8.14" fill="#6f85b8"/>
<rect x="197.26" y="123.16" width="1.14" height="8.14" fill="#8f9fc7"/>
<rect x="198.26" y="123.16" width="1.14" height="8.14" fill="#abb6d4"/>
<rect x="199.25" y="123.16" width="1.14" height="8.14" fill="#b7c0da"/>
<rect x="200.24" y="123.16" width="1.14" height="8.14" fill="#b9c2db"/>
<rect x="201.24" y="123.16" width="1.14" height="8.14" fill="#c0c8de"/>
<rect x="202.23" y="123.16" width="1.14" height="8.14" fill="#f6f2f6"/>
<rect x="203.23" y="123.16" width="1.14" height="8.14" fill="#c6cce1"/>
<rect x="204.22" y="123.16" width="1.14" height="8.14" fill="#b9c1db"/>
<rect x="205.22" y="123.16" width="1.14" height="8.14" fill="#95a4ca"/>
<rect x="206.21" y="123.16" width="1.14" height="8.14" fill="#bac3dc"/>
<rect x="207.20" y="123.16" width="1.14" height="8.14" fill="#b9c1db"/>
<rect x="208.20" y="123.16" width="1.14" height="8.14" fill="#b0bad7"/>
<rect x="209.19" y="123.16" width="1.14" height="8.14" fill="#bec6dd"/>
<rect x="210.19" y="123.16" width="1.14" height="8.14" fill="#d4d8e8"/>
<rect x="211.18" y="123.16" width="1.14" height="8.14" fill="#ced3e5"/>
<rect x="212.18" y="123.16" width="1.14" height="8.14" fill="#bbc3dc"/>
<rect x="213.17" y="123.16" width="1.14" height="8.14" fill="#cfd4e6"/>
<rect x="214.16" y="123.16" width="1.14" height="8.14" fill="#c9cfe3"/>
<rect x="215.16" y="123.16" width="1.14" height="8.14" fill="#cdd2e4"/>
<rect x="216.15" y="123.16" width="1.14" height="8.14" fill="#b9c1db"/>
<rect x="217.15" y="123.16" width="1.14" height="8.14" fill="#e8e9f1"/>
<rect x="218.14" y="123.16" width="1.14" height="8.14" fill="#d9dcea"/>
<rect x="219.14" y="123.16" width="1.14" height="8.14" fill="#c9cfe2"/>
<rect x="220.13" y="123.16" width="1.14" height="8.14" fill="#f6f3f7"/>
<rect x="221.12" y="123.16" width="1.14" height="8.14" fill="#dde0ec"/>
<rect x="222.12" y="123.16" width="1.14" height="8.14" fill="#e0e2ee"/>
<rect x="223.11" y="123.16" width="1.14" height="8.14" fill="#f4e1e2"/>
<rect x="224.11" y="123.16" width="1.14" height="8.14" fill="#f4e4e5"/>
<rect x="225.10" y="123.16" width="1.14" height="8.14" fill="#f6f4f8"/>
<rect x="226.10" y="123.16" width="1.14" height="8.14" fill="#f4e4e5"/>
<rect x="227.09" y="123.16" width="1.14" height="8.14" fill="#f5eef1"/>
<rect x="228.09" y="123.16" width="1.14" height="8.14" fill="#e4e5ef"/>
<rect x="229.08" y="123.16" width="1.14" height="8.14" fill="#f0eff5"/>
<rect x="230.07" y="123.16" width="1.14" height="8.14" fill="#f5ebee"/>
<rect x="231.07" y="123.16" width="1.14" height="8.14" fill="#e3e5ef"/>
<rect x="232.06" y="123.16" width="1.14" height="8.14" fill="#f5eff2"/>
<rect x="233.06" y="123.16" width="1.14" height="8.14" fill="#f3d7d7"/>
<rect x="234.05" y="123.16" width="1.14" height="8.14" fill="#f4e3e4"/>
<rect x="235.05" y="123.16" width="1.14" height="8.14" fill="#f3d9d9"/>
<rect x="236.04" y="123.16" width="1.14" height="8.14" fill="#f6f2f6"/>
<rect x="237.03" y="123.16" width="1.14" height="8.14" fill="#efb3ae"/>
<rect x="238.03" y="123.16" width="1.14" height="8.14" fill="#f1c7c4"/>
<rect x="239.02" y="123.16" width="1.14" height="8.14" fill="#f1c9c7"/>
<rect x="240.02" y="123.16" width="1.14" height="8.14" fill="#f0b9b4"/>
<rect x="241.01" y="123.16" width="1.14" height="8.14" fill="#f2d0cf"/>
<rect x="242.01" y="123.16" width="1.14" height="8.14" fill="#e8796b"/>
</g>
<text x="152.3" y="97.1" font-size="5.0" text-anchor="end" fill="#222" stroke="#222" stroke-width="0.06" >FARSB</text>
<text x="152.3" y="105.19999999999999" font-size="5.0" text-anchor="end" fill="#222" stroke="#222" stroke-width="0.06" >NOP56</text>
<text x="152.3" y="113.3" font-size="5.0" text-anchor="end" fill="#222" stroke="#222" stroke-width="0.06" >CCT4</text>
<text x="152.3" y="121.39999999999999" font-size="5.0" text-anchor="end" fill="#222" stroke="#222" stroke-width="0.06" >DHX37</text>
<text x="152.3" y="129.5" font-size="5.0" text-anchor="end" fill="#222" stroke="#222" stroke-width="0.06" >YARS</text>
<defs><linearGradient id="ck" x1="0" y1="0" x2="0" y2="1"><stop offset="0" stop-color="#e41f22"/><stop offset="0.35" stop-color="#f08470"/><stop offset="0.7" stop-color="#fbe8e4"/><stop offset="0.8" stop-color="#f4f4fa"/><stop offset="0.86" stop-color="#7d97c8"/><stop offset="1" stop-color="#1f4a8c"/></linearGradient></defs>
<rect x="245.7" y="97.7" width="5.1" height="28.4" fill="url(#ck)"/>
<text x="254.2" y="101.3" font-size="3.8" text-anchor="middle" fill="#333" stroke="#333" stroke-width="0.16" transform="rotate(90 254.2 101.3)" dominant-baseline="central">6</text>
<text x="254.2" y="107" font-size="3.8" text-anchor="middle" fill="#333" stroke="#333" stroke-width="0.16" transform="rotate(90 254.2 107)" dominant-baseline="central">4</text>
<text x="254.2" y="113.7" font-size="3.8" text-anchor="middle" fill="#333" stroke="#333" stroke-width="0.16" transform="rotate(90 254.2 113.7)" dominant-baseline="central">2</text>
<text x="254.2" y="119.7" font-size="3.8" text-anchor="middle" fill="#333" stroke="#333" stroke-width="0.16" transform="rotate(90 254.2 119.7)" dominant-baseline="central">0</text>
<circle cx="315" cy="15" r="1.1" fill="#3b8fd8"/>
<text x="318.5" y="16.6" font-size="4.4" text-anchor="start" fill="#222" stroke="#222" stroke-width="0.06" >Low risk</text>
<circle cx="339.2" cy="15" r="1.1" fill="#d8336a"/>
<text x="342.6" y="16.6" font-size="4.4" text-anchor="start" fill="#222" stroke="#222" stroke-width="0.06" >High risk</text>
<line x1="285.5" y1="112" x2="338.7" y2="89.5" stroke="#bbb" stroke-width="0.35" />
<line x1="294.64" y1="112" x2="347.84" y2="89.5" stroke="#bbb" stroke-width="0.35" />
<line x1="303.78" y1="112" x2="356.97999999999996" y2="89.5" stroke="#bbb" stroke-width="0.35" />
<line x1="312.92" y1="112" x2="366.12" y2="89.5" stroke="#bbb" stroke-width="0.35" />
<line x1="322.06" y1="112" x2="375.26" y2="89.5" stroke="#bbb" stroke-width="0.35" />
<line x1="331.2" y1="112" x2="384.4" y2="89.5" stroke="#bbb" stroke-width="0.35" />
<line x1="285.5" y1="112.0" x2="331.2" y2="112.0" stroke="#bbb" stroke-width="0.35" />
<line x1="296.14" y1="107.5" x2="341.84" y2="107.5" stroke="#bbb" stroke-width="0.35" />
<line x1="306.78" y1="103.0" x2="352.47999999999996" y2="103.0" stroke="#bbb" stroke-width="0.35" />
<line x1="317.42" y1="98.5" x2="363.12" y2="98.5" stroke="#bbb" stroke-width="0.35" />
<line x1="328.06" y1="94.0" x2="373.76" y2="94.0" stroke="#bbb" stroke-width="0.35" />
<line x1="338.7" y1="89.5" x2="384.4" y2="89.5" stroke="#bbb" stroke-width="0.35" />
<line x1="285.5" y1="53" x2="331.2" y2="53" stroke="#3c3c3c" stroke-width="0.55" />
<line x1="285.5" y1="53" x2="285.5" y2="112" stroke="#3c3c3c" stroke-width="0.55" />
<line x1="331.2" y1="53" x2="331.2" y2="112" stroke="#3c3c3c" stroke-width="0.55" />
<line x1="285.5" y1="112" x2="331.2" y2="112" stroke="#3c3c3c" stroke-width="0.55" />
<line x1="285.5" y1="53" x2="338.7" y2="31.5" stroke="#3c3c3c" stroke-width="0.55" />
<line x1="331.2" y1="53" x2="383.8" y2="31.5" stroke="#3c3c3c" stroke-width="0.55" />
<line x1="338.7" y1="31.5" x2="383.8" y2="31.5" stroke="#3c3c3c" stroke-width="0.55" />
<line x1="383.8" y1="31.5" x2="383.8" y2="89.5" stroke="#3c3c3c" stroke-width="0.55" />
<line x1="285.5" y1="112" x2="338.7" y2="89.5" stroke="#3c3c3c" stroke-width="0.55" />
<line x1="331.2" y1="112" x2="383.8" y2="89.5" stroke="#3c3c3c" stroke-width="0.55" />
<line x1="338.7" y1="89.5" x2="383.8" y2="89.5" stroke="#3c3c3c" stroke-width="0.55" />
<line x1="338.7" y1="31.5" x2="338.7" y2="89.5" stroke="#3c3c3c" stroke-width="0.55" />
<circle cx="348.6" cy="80.6" r="0.95" fill="#d8336a"/>
<circle cx="340.6" cy="69.7" r="0.95" fill="#d8336a"/>
<circle cx="346.5" cy="82.7" r="0.95" fill="#d8336a"/>
<circle cx="346.7" cy="68.4" r="0.95" fill="#d8336a"/>
<circle cx="340.7" cy="73.9" r="0.95" fill="#d8336a"/>
<circle cx="349.5" cy="74.1" r="0.95" fill="#d8336a"/>
<circle cx="342.8" cy="73.0" r="0.95" fill="#d8336a"/>
<circle cx="345.5" cy="70.5" r="0.95" fill="#d8336a"/>
<circle cx="344.7" cy="75.5" r="0.95" fill="#d8336a"/>
<circle cx="353.0" cy="73.9" r="0.95" fill="#d8336a"/>
<circle cx="349.6" cy="69.1" r="0.95" fill="#d8336a"/>
<circle cx="349.0" cy="74.9" r="0.95" fill="#d8336a"/>
<circle cx="341.9" cy="74.0" r="0.95" fill="#d8336a"/>
<circle cx="349.3" cy="72.6" r="0.95" fill="#d8336a"/>
<circle cx="349.9" cy="81.6" r="0.95" fill="#d8336a"/>
<circle cx="352.9" cy="82.1" r="0.95" fill="#d8336a"/>
<circle cx="338.2" cy="75.8" r="0.95" fill="#d8336a"/>
<circle cx="341.2" cy="78.8" r="0.95" fill="#d8336a"/>
<circle cx="345.1" cy="75.3" r="0.95" fill="#d8336a"/>
<circle cx="347.0" cy="71.3" r="0.95" fill="#d8336a"/>
<circle cx="345.2" cy="70.6" r="0.95" fill="#d8336a"/>
<circle cx="355.3" cy="71.9" r="0.95" fill="#d8336a"/>
<circle cx="344.8" cy="65.5" r="0.95" fill="#d8336a"/>
<circle cx="337.1" cy="70.1" r="0.95" fill="#d8336a"/>
<circle cx="348.7" cy="78.0" r="0.95" fill="#d8336a"/>
<circle cx="346.1" cy="71.0" r="0.95" fill="#d8336a"/>
<circle cx="354.1" cy="69.1" r="0.95" fill="#d8336a"/>
<circle cx="340.3" cy="76.6" r="0.95" fill="#d8336a"/>
<circle cx="339.6" cy="75.5" r="0.95" fill="#d8336a"/>
<circle cx="349.6" cy="73.8" r="0.95" fill="#d8336a"/>
<circle cx="346.8" cy="74.4" r="0.95" fill="#d8336a"/>
<circle cx="341.2" cy="58.6" r="0.95" fill="#d8336a"/>
<circle cx="338.5" cy="74.1" r="0.95" fill="#d8336a"/>
<circle cx="336.3" cy="71.4" r="0.95" fill="#d8336a"/>
<circle cx="345.7" cy="80.7" r="0.95" fill="#d8336a"/>
<circle cx="337.7" cy="71.6" r="0.95" fill="#d8336a"/>
<circle cx="345.8" cy="76.8" r="0.95" fill="#d8336a"/>
<circle cx="337.6" cy="83.3" r="0.95" fill="#d8336a"/>
<circle cx="340.5" cy="79.5" r="0.95" fill="#d8336a"/>
<circle cx="343.7" cy="76.2" r="0.95" fill="#d8336a"/>
<circle cx="353.2" cy="77.7" r="0.95" fill="#d8336a"/>
<circle cx="345.4" cy="69.2" r="0.95" fill="#d8336a"/>
<circle cx="341.3" cy="67.1" r="0.95" fill="#d8336a"/>
<circle cx="355.0" cy="66.5" r="0.95" fill="#d8336a"/>
<circle cx="331.5" cy="82.3" r="0.95" fill="#d8336a"/>
<circle cx="351.2" cy="72.4" r="0.95" fill="#d8336a"/>
<circle cx="349.0" cy="70.1" r="0.95" fill="#d8336a"/>
<circle cx="341.7" cy="76.7" r="0.95" fill="#d8336a"/>
<circle cx="346.7" cy="71.9" r="0.95" fill="#d8336a"/>
<circle cx="353.0" cy="77.8" r="0.95" fill="#d8336a"/>
<circle cx="345.4" cy="68.3" r="0.95" fill="#d8336a"/>
<circle cx="345.4" cy="72.6" r="0.95" fill="#d8336a"/>
<circle cx="344.3" cy="78.1" r="0.95" fill="#d8336a"/>
<circle cx="341.7" cy="75.5" r="0.95" fill="#d8336a"/>
<circle cx="348.8" cy="75.9" r="0.95" fill="#d8336a"/>
<circle cx="356.5" cy="65.5" r="0.95" fill="#d8336a"/>
<circle cx="344.3" cy="68.3" r="0.95" fill="#d8336a"/>
<circle cx="344.3" cy="86.6" r="0.95" fill="#d8336a"/>
<circle cx="336.2" cy="72.7" r="0.95" fill="#d8336a"/>
<circle cx="348.0" cy="74.6" r="0.95" fill="#d8336a"/>
<circle cx="349.4" cy="66.4" r="0.95" fill="#d8336a"/>
<circle cx="349.7" cy="69.4" r="0.95" fill="#d8336a"/>
<circle cx="338.4" cy="77.0" r="0.95" fill="#d8336a"/>
<circle cx="347.1" cy="70.5" r="0.95" fill="#d8336a"/>
<circle cx="340.4" cy="73.1" r="0.95" fill="#d8336a"/>
<circle cx="344.6" cy="73.3" r="0.95" fill="#d8336a"/>
<circle cx="339.4" cy="62.6" r="0.95" fill="#d8336a"/>
<circle cx="351.4" cy="75.0" r="0.95" fill="#d8336a"/>
<circle cx="338.2" cy="66.3" r="0.95" fill="#d8336a"/>
<circle cx="341.0" cy="72.1" r="0.95" fill="#d8336a"/>
<circle cx="333.6" cy="81.1" r="0.95" fill="#d8336a"/>
<circle cx="346.8" cy="72.5" r="0.95" fill="#d8336a"/>
<circle cx="346.4" cy="75.2" r="0.95" fill="#d8336a"/>
<circle cx="350.1" cy="74.9" r="0.95" fill="#d8336a"/>
<circle cx="351.1" cy="81.8" r="0.95" fill="#d8336a"/>
<circle cx="343.0" cy="71.8" r="0.95" fill="#d8336a"/>
<circle cx="340.0" cy="72.9" r="0.95" fill="#d8336a"/>
<circle cx="340.8" cy="74.1" r="0.95" fill="#d8336a"/>
<circle cx="346.2" cy="76.8" r="0.95" fill="#d8336a"/>
<circle cx="338.6" cy="79.5" r="0.95" fill="#d8336a"/>
<circle cx="343.0" cy="73.5" r="0.95" fill="#d8336a"/>
<circle cx="341.9" cy="64.1" r="0.95" fill="#d8336a"/>
<circle cx="345.9" cy="65.3" r="0.95" fill="#d8336a"/>
<circle cx="350.3" cy="74.3" r="0.95" fill="#d8336a"/>
<circle cx="352.6" cy="77.3" r="0.95" fill="#d8336a"/>
<circle cx="312.5" cy="66.0" r="0.95" fill="#d8336a"/>
<circle cx="316.0" cy="70.0" r="0.95" fill="#d8336a"/>
<circle cx="325.6" cy="60.6" r="0.95" fill="#d8336a"/>
<circle cx="330.0" cy="58.7" r="0.95" fill="#d8336a"/>
<circle cx="333.0" cy="62.5" r="0.95" fill="#d8336a"/>
<circle cx="318.0" cy="81.0" r="0.95" fill="#d8336a"/>
<circle cx="312.5" cy="86.8" r="0.95" fill="#d8336a"/>
<circle cx="308.7" cy="94.3" r="0.95" fill="#d8336a"/>
<circle cx="329.3" cy="92.4" r="0.95" fill="#d8336a"/>
<circle cx="331.0" cy="88.7" r="0.95" fill="#d8336a"/>
<circle cx="327.4" cy="73.7" r="0.95" fill="#d8336a"/>
<circle cx="335.0" cy="77.4" r="0.95" fill="#d8336a"/>
<circle cx="316.0" cy="67.0" r="0.95" fill="#d8336a"/>
<circle cx="318.0" cy="83.0" r="0.95" fill="#d8336a"/>
<circle cx="313.3" cy="90.7" r="0.95" fill="#d8336a"/>
<circle cx="308.0" cy="95.0" r="0.95" fill="#d8336a"/>
<circle cx="326.4" cy="61.0" r="0.95" fill="#d8336a"/>
<circle cx="326.0" cy="73.0" r="0.95" fill="#d8336a"/>
<circle cx="325.0" cy="75.5" r="0.95" fill="#d8336a"/>
<circle cx="336.0" cy="55.0" r="0.95" fill="#d8336a"/>
<circle cx="338.0" cy="62.0" r="0.95" fill="#d8336a"/>
<circle cx="334.0" cy="70.0" r="0.95" fill="#d8336a"/>
<circle cx="322.0" cy="86.0" r="0.95" fill="#d8336a"/>
<circle cx="303.0" cy="100.0" r="0.95" fill="#d8336a"/>
<circle cx="337.0" cy="84.0" r="0.95" fill="#d8336a"/>
<circle cx="341.0" cy="58.0" r="0.95" fill="#d8336a"/>
<circle cx="355.8" cy="72.2" r="0.85" fill="#3b8fd8"/>
<circle cx="353.7" cy="72.6" r="0.85" fill="#3b8fd8"/>
<circle cx="353.5" cy="69.1" r="0.85" fill="#3b8fd8"/>
<circle cx="352.0" cy="69.8" r="0.85" fill="#3b8fd8"/>
<circle cx="355.7" cy="66.9" r="0.85" fill="#3b8fd8"/>
<circle cx="350.3" cy="68.2" r="0.85" fill="#3b8fd8"/>
<circle cx="355.0" cy="67.9" r="0.85" fill="#3b8fd8"/>
<circle cx="351.1" cy="66.3" r="0.85" fill="#3b8fd8"/>
<circle cx="353.1" cy="61.0" r="0.85" fill="#3b8fd8"/>
<circle cx="352.2" cy="72.3" r="0.85" fill="#3b8fd8"/>
<circle cx="350.3" cy="67.7" r="0.85" fill="#3b8fd8"/>
<circle cx="358.5" cy="70.3" r="0.85" fill="#3b8fd8"/>
<circle cx="356.4" cy="67.9" r="0.85" fill="#3b8fd8"/>
<circle cx="350.1" cy="76.4" r="0.85" fill="#3b8fd8"/>
<circle cx="354.7" cy="69.0" r="0.85" fill="#3b8fd8"/>
<circle cx="358.4" cy="70.6" r="0.85" fill="#3b8fd8"/>
<circle cx="354.0" cy="65.3" r="0.85" fill="#3b8fd8"/>
<circle cx="353.4" cy="67.9" r="0.85" fill="#3b8fd8"/>
<circle cx="351.9" cy="65.9" r="0.85" fill="#3b8fd8"/>
<circle cx="351.0" cy="68.0" r="0.85" fill="#3b8fd8"/>
<circle cx="352.2" cy="69.5" r="0.85" fill="#3b8fd8"/>
<circle cx="356.6" cy="69.2" r="0.85" fill="#3b8fd8"/>
<circle cx="353.9" cy="72.7" r="0.85" fill="#3b8fd8"/>
<circle cx="355.6" cy="64.2" r="0.85" fill="#3b8fd8"/>
<circle cx="351.8" cy="68.9" r="0.85" fill="#3b8fd8"/>
<circle cx="351.4" cy="70.4" r="0.85" fill="#3b8fd8"/>
<circle cx="348.9" cy="63.0" r="0.85" fill="#3b8fd8"/>
<circle cx="356.6" cy="69.9" r="0.85" fill="#3b8fd8"/>
<circle cx="349.4" cy="68.5" r="0.85" fill="#3b8fd8"/>
<circle cx="357.6" cy="65.2" r="0.85" fill="#3b8fd8"/>
<circle cx="350.5" cy="64.9" r="0.85" fill="#3b8fd8"/>
<circle cx="351.1" cy="63.5" r="0.85" fill="#3b8fd8"/>
<circle cx="352.5" cy="64.3" r="0.85" fill="#3b8fd8"/>
<circle cx="354.0" cy="74.5" r="0.85" fill="#3b8fd8"/>
<circle cx="350.9" cy="70.8" r="0.85" fill="#3b8fd8"/>
<circle cx="357.1" cy="61.9" r="0.85" fill="#3b8fd8"/>
<circle cx="354.1" cy="68.3" r="0.85" fill="#3b8fd8"/>
<circle cx="352.9" cy="70.5" r="0.85" fill="#3b8fd8"/>
<circle cx="352.6" cy="69.3" r="0.85" fill="#3b8fd8"/>
<circle cx="352.7" cy="67.9" r="0.85" fill="#3b8fd8"/>
<circle cx="351.6" cy="74.6" r="0.85" fill="#3b8fd8"/>
<circle cx="353.7" cy="65.2" r="0.85" fill="#3b8fd8"/>
<circle cx="359.2" cy="72.7" r="0.85" fill="#3b8fd8"/>
<circle cx="353.3" cy="66.5" r="0.85" fill="#3b8fd8"/>
<circle cx="351.8" cy="71.7" r="0.85" fill="#3b8fd8"/>
<circle cx="352.9" cy="66.3" r="0.85" fill="#3b8fd8"/>
<circle cx="356.2" cy="67.6" r="0.85" fill="#3b8fd8"/>
<circle cx="353.7" cy="73.7" r="0.85" fill="#3b8fd8"/>
<circle cx="356.2" cy="71.8" r="0.85" fill="#3b8fd8"/>
<circle cx="355.0" cy="71.9" r="0.85" fill="#3b8fd8"/>
<circle cx="353.3" cy="71.0" r="0.85" fill="#3b8fd8"/>
<circle cx="356.7" cy="67.2" r="0.85" fill="#3b8fd8"/>
<circle cx="350.2" cy="69.8" r="0.85" fill="#3b8fd8"/>
<circle cx="353.5" cy="70.0" r="0.85" fill="#3b8fd8"/>
<circle cx="352.1" cy="69.8" r="0.85" fill="#3b8fd8"/>
<circle cx="356.5" cy="74.9" r="0.85" fill="#3b8fd8"/>
<circle cx="358.8" cy="69.4" r="0.85" fill="#3b8fd8"/>
<circle cx="357.8" cy="66.6" r="0.85" fill="#3b8fd8"/>
<circle cx="357.1" cy="68.7" r="0.85" fill="#3b8fd8"/>
<circle cx="357.5" cy="69.2" r="0.85" fill="#3b8fd8"/>
<circle cx="353.2" cy="66.3" r="0.85" fill="#3b8fd8"/>
<circle cx="357.3" cy="68.5" r="0.85" fill="#3b8fd8"/>
<circle cx="355.8" cy="69.6" r="0.85" fill="#3b8fd8"/>
<circle cx="348.1" cy="70.0" r="0.85" fill="#3b8fd8"/>
<circle cx="352.8" cy="69.4" r="0.85" fill="#3b8fd8"/>
<circle cx="355.1" cy="63.3" r="0.85" fill="#3b8fd8"/>
<circle cx="352.9" cy="68.1" r="0.85" fill="#3b8fd8"/>
<circle cx="354.9" cy="70.9" r="0.85" fill="#3b8fd8"/>
<circle cx="351.9" cy="67.7" r="0.85" fill="#3b8fd8"/>
<circle cx="355.5" cy="63.2" r="0.85" fill="#3b8fd8"/>
<circle cx="359.0" cy="65.7" r="0.85" fill="#3b8fd8"/>
<circle cx="357.5" cy="68.7" r="0.85" fill="#3b8fd8"/>
<circle cx="359.1" cy="71.2" r="0.85" fill="#3b8fd8"/>
<circle cx="353.7" cy="63.6" r="0.85" fill="#3b8fd8"/>
<circle cx="354.2" cy="69.2" r="0.85" fill="#3b8fd8"/>
<circle cx="355.3" cy="64.8" r="0.85" fill="#3b8fd8"/>
<circle cx="351.5" cy="66.1" r="0.85" fill="#3b8fd8"/>
<circle cx="354.6" cy="65.9" r="0.85" fill="#3b8fd8"/>
<circle cx="353.5" cy="70.9" r="0.85" fill="#3b8fd8"/>
<circle cx="352.6" cy="72.1" r="0.85" fill="#3b8fd8"/>
<circle cx="354.6" cy="67.6" r="0.85" fill="#3b8fd8"/>
<circle cx="356.9" cy="69.7" r="0.85" fill="#3b8fd8"/>
<circle cx="353.0" cy="66.7" r="0.85" fill="#3b8fd8"/>
<circle cx="353.7" cy="69.3" r="0.85" fill="#3b8fd8"/>
<circle cx="357.0" cy="69.1" r="0.85" fill="#3b8fd8"/>
<circle cx="352.1" cy="64.6" r="0.85" fill="#3b8fd8"/>
<circle cx="354.5" cy="69.4" r="0.85" fill="#3b8fd8"/>
<circle cx="357.0" cy="66.8" r="0.85" fill="#3b8fd8"/>
<circle cx="350.2" cy="70.6" r="0.85" fill="#3b8fd8"/>
<circle cx="353.3" cy="64.9" r="0.85" fill="#3b8fd8"/>
<circle cx="358.4" cy="70.8" r="0.85" fill="#3b8fd8"/>
<circle cx="354.0" cy="69.1" r="0.85" fill="#3b8fd8"/>
<circle cx="351.7" cy="71.1" r="0.85" fill="#3b8fd8"/>
<circle cx="352.6" cy="67.1" r="0.85" fill="#3b8fd8"/>
<circle cx="353.0" cy="65.1" r="0.85" fill="#3b8fd8"/>
<circle cx="356.7" cy="72.9" r="0.85" fill="#3b8fd8"/>
<circle cx="355.9" cy="62.6" r="0.85" fill="#3b8fd8"/>
<circle cx="353.0" cy="66.5" r="0.85" fill="#3b8fd8"/>
<circle cx="354.8" cy="62.3" r="0.85" fill="#3b8fd8"/>
<circle cx="347.8" cy="67.0" r="0.85" fill="#3b8fd8"/>
<circle cx="356.5" cy="67.8" r="0.85" fill="#3b8fd8"/>
<circle cx="359.9" cy="65.9" r="0.85" fill="#3b8fd8"/>
<circle cx="353.9" cy="67.9" r="0.85" fill="#3b8fd8"/>
<circle cx="351.5" cy="71.4" r="0.85" fill="#3b8fd8"/>
<circle cx="350.1" cy="65.4" r="0.85" fill="#3b8fd8"/>
<circle cx="352.8" cy="67.0" r="0.85" fill="#3b8fd8"/>
<circle cx="356.9" cy="66.8" r="0.85" fill="#3b8fd8"/>
<circle cx="355.2" cy="67.0" r="0.85" fill="#3b8fd8"/>
<circle cx="357.4" cy="68.3" r="0.85" fill="#3b8fd8"/>
<circle cx="354.5" cy="63.8" r="0.85" fill="#3b8fd8"/>
<circle cx="355.8" cy="66.5" r="0.85" fill="#3b8fd8"/>
<circle cx="356.3" cy="69.7" r="0.85" fill="#3b8fd8"/>
<circle cx="355.3" cy="71.4" r="0.85" fill="#3b8fd8"/>
<circle cx="354.9" cy="65.9" r="0.85" fill="#3b8fd8"/>
<circle cx="354.2" cy="68.8" r="0.85" fill="#3b8fd8"/>
<circle cx="350.5" cy="70.0" r="0.85" fill="#3b8fd8"/>
<circle cx="357.9" cy="69.0" r="0.85" fill="#3b8fd8"/>
<circle cx="354.1" cy="69.6" r="0.85" fill="#3b8fd8"/>
<circle cx="356.9" cy="66.8" r="0.85" fill="#3b8fd8"/>
<circle cx="356.5" cy="66.2" r="0.85" fill="#3b8fd8"/>
<circle cx="355.3" cy="69.7" r="0.85" fill="#3b8fd8"/>
<circle cx="350.2" cy="70.1" r="0.85" fill="#3b8fd8"/>
<circle cx="354.4" cy="63.7" r="0.85" fill="#3b8fd8"/>
<circle cx="352.6" cy="66.6" r="0.85" fill="#3b8fd8"/>
<circle cx="351.3" cy="69.5" r="0.85" fill="#3b8fd8"/>
<circle cx="351.6" cy="68.4" r="0.85" fill="#3b8fd8"/>
<circle cx="350.8" cy="67.6" r="0.85" fill="#3b8fd8"/>
<circle cx="358.9" cy="69.5" r="0.85" fill="#3b8fd8"/>
<circle cx="349.5" cy="65.7" r="0.85" fill="#3b8fd8"/>
<circle cx="353.4" cy="63.8" r="0.85" fill="#3b8fd8"/>
<circle cx="356.5" cy="68.2" r="0.85" fill="#3b8fd8"/>
<circle cx="353.6" cy="68.5" r="0.85" fill="#3b8fd8"/>
<circle cx="351.9" cy="65.1" r="0.85" fill="#3b8fd8"/>
<circle cx="345.2" cy="63.8" r="0.85" fill="#3b8fd8"/>
<circle cx="354.5" cy="70.2" r="0.85" fill="#3b8fd8"/>
<circle cx="353.3" cy="63.2" r="0.85" fill="#3b8fd8"/>
<circle cx="352.9" cy="68.4" r="0.85" fill="#3b8fd8"/>
<circle cx="350.2" cy="72.1" r="0.85" fill="#3b8fd8"/>
<circle cx="350.7" cy="68.3" r="0.85" fill="#3b8fd8"/>
<circle cx="350.8" cy="70.8" r="0.85" fill="#3b8fd8"/>
<circle cx="350.3" cy="65.8" r="0.85" fill="#3b8fd8"/>
<circle cx="356.9" cy="64.8" r="0.85" fill="#3b8fd8"/>
<circle cx="352.3" cy="69.8" r="0.85" fill="#3b8fd8"/>
<circle cx="354.8" cy="63.4" r="0.85" fill="#3b8fd8"/>
<circle cx="355.5" cy="67.5" r="0.85" fill="#3b8fd8"/>
<circle cx="357.2" cy="63.5" r="0.85" fill="#3b8fd8"/>
<circle cx="355.9" cy="69.4" r="0.85" fill="#3b8fd8"/>
<circle cx="352.7" cy="67.1" r="0.85" fill="#3b8fd8"/>
<circle cx="354.9" cy="66.4" r="0.85" fill="#3b8fd8"/>
<circle cx="352.8" cy="66.2" r="0.85" fill="#3b8fd8"/>
<circle cx="354.2" cy="70.2" r="0.85" fill="#3b8fd8"/>
<circle cx="349.4" cy="68.4" r="0.85" fill="#3b8fd8"/>
<circle cx="354.7" cy="72.5" r="0.85" fill="#3b8fd8"/>
<circle cx="351.7" cy="71.8" r="0.85" fill="#3b8fd8"/>
<circle cx="352.6" cy="69.7" r="0.85" fill="#3b8fd8"/>
<circle cx="354.4" cy="69.0" r="0.85" fill="#3b8fd8"/>
<circle cx="352.8" cy="65.6" r="0.85" fill="#3b8fd8"/>
<circle cx="357.9" cy="72.3" r="0.85" fill="#3b8fd8"/>
<circle cx="353.5" cy="67.8" r="0.85" fill="#3b8fd8"/>
<circle cx="353.2" cy="64.6" r="0.85" fill="#3b8fd8"/>
<circle cx="350.7" cy="69.4" r="0.85" fill="#3b8fd8"/>
<circle cx="356.4" cy="67.7" r="0.85" fill="#3b8fd8"/>
<circle cx="351.2" cy="65.3" r="0.85" fill="#3b8fd8"/>
<circle cx="352.1" cy="70.2" r="0.85" fill="#3b8fd8"/>
<circle cx="353.9" cy="64.3" r="0.85" fill="#3b8fd8"/>
<circle cx="350.6" cy="69.2" r="0.85" fill="#3b8fd8"/>
<circle cx="354.6" cy="73.2" r="0.85" fill="#3b8fd8"/>
<circle cx="357.8" cy="68.8" r="0.85" fill="#3b8fd8"/>
<circle cx="351.9" cy="68.9" r="0.85" fill="#3b8fd8"/>
<circle cx="350.6" cy="66.4" r="0.85" fill="#3b8fd8"/>
<circle cx="356.6" cy="70.0" r="0.85" fill="#3b8fd8"/>
<circle cx="356.4" cy="72.6" r="0.85" fill="#3b8fd8"/>
<circle cx="352.6" cy="70.5" r="0.85" fill="#3b8fd8"/>
<circle cx="354.0" cy="69.2" r="0.85" fill="#3b8fd8"/>
<circle cx="354.4" cy="69.8" r="0.85" fill="#3b8fd8"/>
<circle cx="349.9" cy="64.5" r="0.85" fill="#3b8fd8"/>
<circle cx="354.0" cy="69.6" r="0.85" fill="#3b8fd8"/>
<circle cx="352.4" cy="68.0" r="0.85" fill="#3b8fd8"/>
<circle cx="349.9" cy="71.0" r="0.85" fill="#3b8fd8"/>
<circle cx="355.1" cy="72.5" r="0.85" fill="#3b8fd8"/>
<circle cx="352.7" cy="68.0" r="0.85" fill="#3b8fd8"/>
<circle cx="354.0" cy="72.1" r="0.85" fill="#3b8fd8"/>
<circle cx="355.4" cy="69.4" r="0.85" fill="#3b8fd8"/>
<circle cx="349.2" cy="65.9" r="0.85" fill="#3b8fd8"/>
<circle cx="349.7" cy="67.8" r="0.85" fill="#3b8fd8"/>
<circle cx="356.2" cy="68.4" r="0.85" fill="#3b8fd8"/>
<circle cx="351.2" cy="73.9" r="0.85" fill="#3b8fd8"/>
<circle cx="350.7" cy="72.1" r="0.85" fill="#3b8fd8"/>
<circle cx="357.0" cy="69.0" r="0.85" fill="#3b8fd8"/>
<circle cx="357.5" cy="65.3" r="0.85" fill="#3b8fd8"/>
<circle cx="352.2" cy="67.4" r="0.85" fill="#3b8fd8"/>
<circle cx="354.8" cy="67.8" r="0.85" fill="#3b8fd8"/>
<circle cx="358.5" cy="67.2" r="0.85" fill="#3b8fd8"/>
<circle cx="353.1" cy="64.9" r="0.85" fill="#3b8fd8"/>
<circle cx="355.1" cy="70.5" r="0.85" fill="#3b8fd8"/>
<circle cx="351.7" cy="64.8" r="0.85" fill="#3b8fd8"/>
<circle cx="349.9" cy="71.5" r="0.85" fill="#3b8fd8"/>
<circle cx="356.0" cy="69.1" r="0.85" fill="#3b8fd8"/>
<circle cx="355.9" cy="69.6" r="0.85" fill="#3b8fd8"/>
<circle cx="355.0" cy="63.8" r="0.85" fill="#3b8fd8"/>
<circle cx="355.2" cy="70.2" r="0.85" fill="#3b8fd8"/>
<circle cx="356.9" cy="71.0" r="0.85" fill="#3b8fd8"/>
<circle cx="351.9" cy="69.0" r="0.85" fill="#3b8fd8"/>
<circle cx="349.9" cy="72.3" r="0.85" fill="#3b8fd8"/>
<circle cx="350.0" cy="70.2" r="0.85" fill="#3b8fd8"/>
<circle cx="351.6" cy="66.0" r="0.85" fill="#3b8fd8"/>
<circle cx="351.3" cy="67.4" r="0.85" fill="#3b8fd8"/>
<circle cx="354.8" cy="71.4" r="0.85" fill="#3b8fd8"/>
<circle cx="353.0" cy="70.7" r="0.85" fill="#3b8fd8"/>
<circle cx="356.2" cy="74.0" r="0.85" fill="#3b8fd8"/>
<circle cx="352.1" cy="69.1" r="0.85" fill="#3b8fd8"/>
<circle cx="355.7" cy="68.7" r="0.85" fill="#3b8fd8"/>
<circle cx="355.5" cy="66.4" r="0.85" fill="#3b8fd8"/>
<circle cx="352.8" cy="66.5" r="0.85" fill="#3b8fd8"/>
<circle cx="352.0" cy="65.8" r="0.85" fill="#3b8fd8"/>
<circle cx="353.5" cy="64.9" r="0.85" fill="#3b8fd8"/>
<circle cx="352.2" cy="69.9" r="0.85" fill="#3b8fd8"/>
<circle cx="349.4" cy="65.3" r="0.85" fill="#3b8fd8"/>
<circle cx="352.7" cy="65.3" r="0.85" fill="#3b8fd8"/>
<circle cx="351.0" cy="73.5" r="0.85" fill="#3b8fd8"/>
<circle cx="354.7" cy="67.0" r="0.85" fill="#3b8fd8"/>
<circle cx="351.7" cy="64.0" r="0.85" fill="#3b8fd8"/>
<circle cx="350.5" cy="61.8" r="0.85" fill="#3b8fd8"/>
<circle cx="355.3" cy="66.8" r="0.85" fill="#3b8fd8"/>
<circle cx="356.3" cy="68.2" r="0.85" fill="#3b8fd8"/>
<circle cx="348.2" cy="73.6" r="0.85" fill="#3b8fd8"/>
<circle cx="355.2" cy="70.7" r="0.85" fill="#3b8fd8"/>
<circle cx="352.2" cy="66.7" r="0.85" fill="#3b8fd8"/>
<circle cx="353.3" cy="73.3" r="0.85" fill="#3b8fd8"/>
<circle cx="350.3" cy="65.3" r="0.85" fill="#3b8fd8"/>
<circle cx="355.2" cy="62.8" r="0.85" fill="#3b8fd8"/>
<circle cx="357.9" cy="65.1" r="0.85" fill="#3b8fd8"/>
<circle cx="357.1" cy="67.9" r="0.85" fill="#3b8fd8"/>
<circle cx="352.8" cy="65.1" r="0.85" fill="#3b8fd8"/>
<circle cx="357.8" cy="67.5" r="0.85" fill="#3b8fd8"/>
<circle cx="350.1" cy="70.0" r="0.85" fill="#3b8fd8"/>
<circle cx="353.4" cy="69.7" r="0.85" fill="#3b8fd8"/>
<circle cx="352.7" cy="69.3" r="0.85" fill="#3b8fd8"/>
<circle cx="355.0" cy="68.3" r="0.85" fill="#3b8fd8"/>
<circle cx="349.2" cy="69.6" r="0.85" fill="#3b8fd8"/>
<circle cx="357.6" cy="69.5" r="0.85" fill="#3b8fd8"/>
<circle cx="356.4" cy="70.5" r="0.85" fill="#3b8fd8"/>
<circle cx="352.9" cy="71.2" r="0.85" fill="#3b8fd8"/>
<circle cx="353.1" cy="65.5" r="0.85" fill="#3b8fd8"/>
<circle cx="350.3" cy="71.1" r="0.85" fill="#3b8fd8"/>
<circle cx="355.7" cy="70.0" r="0.85" fill="#3b8fd8"/>
<circle cx="352.2" cy="63.2" r="0.85" fill="#3b8fd8"/>
<circle cx="355.9" cy="68.0" r="0.85" fill="#3b8fd8"/>
<circle cx="352.1" cy="66.6" r="0.85" fill="#3b8fd8"/>
<circle cx="352.2" cy="63.1" r="0.85" fill="#3b8fd8"/>
<circle cx="355.5" cy="70.2" r="0.85" fill="#3b8fd8"/>
<circle cx="356.2" cy="67.3" r="0.85" fill="#3b8fd8"/>
<circle cx="350.3" cy="64.5" r="0.85" fill="#3b8fd8"/>
<circle cx="352.9" cy="73.1" r="0.85" fill="#3b8fd8"/>
<circle cx="356.4" cy="68.4" r="0.85" fill="#3b8fd8"/>
<circle cx="355.1" cy="70.5" r="0.85" fill="#3b8fd8"/>
<circle cx="353.9" cy="68.9" r="0.85" fill="#3b8fd8"/>
<circle cx="354.4" cy="66.7" r="0.85" fill="#3b8fd8"/>
<circle cx="350.6" cy="66.7" r="0.85" fill="#3b8fd8"/>
<circle cx="357.0" cy="63.9" r="0.85" fill="#3b8fd8"/>
<circle cx="352.6" cy="67.1" r="0.85" fill="#3b8fd8"/>
<circle cx="353.9" cy="67.0" r="0.85" fill="#3b8fd8"/>
<circle cx="356.0" cy="67.3" r="0.85" fill="#3b8fd8"/>
<circle cx="353.8" cy="70.3" r="0.85" fill="#3b8fd8"/>
<circle cx="349.9" cy="71.3" r="0.85" fill="#3b8fd8"/>
<circle cx="356.6" cy="64.6" r="0.85" fill="#3b8fd8"/>
<circle cx="353.5" cy="66.2" r="0.85" fill="#3b8fd8"/>
<circle cx="352.8" cy="70.5" r="0.85" fill="#3b8fd8"/>
<circle cx="348.6" cy="70.6" r="0.85" fill="#3b8fd8"/>
<circle cx="355.0" cy="68.3" r="0.85" fill="#3b8fd8"/>
<circle cx="359.9" cy="66.9" r="0.85" fill="#3b8fd8"/>
<circle cx="349.6" cy="69.3" r="0.85" fill="#3b8fd8"/>
<circle cx="354.2" cy="66.5" r="0.85" fill="#3b8fd8"/>
<circle cx="347.9" cy="63.0" r="0.85" fill="#3b8fd8"/>
<circle cx="358.3" cy="64.1" r="0.85" fill="#3b8fd8"/>
<circle cx="357.6" cy="70.6" r="0.85" fill="#3b8fd8"/>
<circle cx="347.7" cy="68.8" r="0.85" fill="#3b8fd8"/>
<circle cx="355.6" cy="71.4" r="0.85" fill="#3b8fd8"/>
<circle cx="357.5" cy="71.8" r="0.85" fill="#3b8fd8"/>
<circle cx="353.7" cy="67.6" r="0.85" fill="#3b8fd8"/>
<circle cx="353.2" cy="69.7" r="0.85" fill="#3b8fd8"/>
<circle cx="351.2" cy="65.3" r="0.85" fill="#3b8fd8"/>
<circle cx="360.1" cy="70.9" r="0.85" fill="#3b8fd8"/>
<circle cx="356.7" cy="67.6" r="0.85" fill="#3b8fd8"/>
<circle cx="351.4" cy="67.1" r="0.85" fill="#3b8fd8"/>
<circle cx="351.6" cy="66.6" r="0.85" fill="#3b8fd8"/>
<circle cx="349.5" cy="70.0" r="0.85" fill="#3b8fd8"/>
<circle cx="354.7" cy="70.5" r="0.85" fill="#3b8fd8"/>
<circle cx="354.0" cy="66.3" r="0.85" fill="#3b8fd8"/>
<circle cx="359.4" cy="70.9" r="0.85" fill="#3b8fd8"/>
<circle cx="355.4" cy="70.7" r="0.85" fill="#3b8fd8"/>
<circle cx="353.0" cy="70.3" r="0.85" fill="#3b8fd8"/>
<circle cx="351.7" cy="71.1" r="0.85" fill="#3b8fd8"/>
<circle cx="356.4" cy="70.6" r="0.85" fill="#3b8fd8"/>
<circle cx="354.9" cy="68.7" r="0.85" fill="#3b8fd8"/>
<circle cx="354.4" cy="70.3" r="0.85" fill="#3b8fd8"/>
<circle cx="352.5" cy="70.2" r="0.85" fill="#3b8fd8"/>
<circle cx="355.9" cy="64.8" r="0.85" fill="#3b8fd8"/>
<circle cx="349.1" cy="69.1" r="0.85" fill="#3b8fd8"/>
<circle cx="352.8" cy="66.1" r="0.85" fill="#3b8fd8"/>
<circle cx="350.3" cy="65.2" r="0.85" fill="#3b8fd8"/>
<circle cx="349.2" cy="67.3" r="0.85" fill="#3b8fd8"/>
<circle cx="349.5" cy="63.5" r="0.85" fill="#3b8fd8"/>
<circle cx="353.4" cy="72.5" r="0.85" fill="#3b8fd8"/>
<circle cx="357.2" cy="67.8" r="0.85" fill="#3b8fd8"/>
<circle cx="354.8" cy="67.6" r="0.85" fill="#3b8fd8"/>
<circle cx="353.4" cy="66.1" r="0.85" fill="#3b8fd8"/>
<circle cx="353.8" cy="65.4" r="0.85" fill="#3b8fd8"/>
<circle cx="351.7" cy="67.8" r="0.85" fill="#3b8fd8"/>
<circle cx="353.6" cy="73.9" r="0.85" fill="#3b8fd8"/>
<circle cx="351.4" cy="65.2" r="0.85" fill="#3b8fd8"/>
<circle cx="355.5" cy="69.9" r="0.85" fill="#3b8fd8"/>
<circle cx="355.6" cy="67.9" r="0.85" fill="#3b8fd8"/>
<circle cx="349.6" cy="67.3" r="0.85" fill="#3b8fd8"/>
<circle cx="350.2" cy="68.1" r="0.85" fill="#3b8fd8"/>
<circle cx="358.6" cy="67.4" r="0.85" fill="#3b8fd8"/>
<circle cx="354.0" cy="71.3" r="0.85" fill="#3b8fd8"/>
<circle cx="350.1" cy="70.4" r="0.85" fill="#3b8fd8"/>
<circle cx="352.8" cy="66.4" r="0.85" fill="#3b8fd8"/>
<circle cx="352.7" cy="65.5" r="0.85" fill="#3b8fd8"/>
<circle cx="356.1" cy="68.5" r="0.85" fill="#3b8fd8"/>
<circle cx="352.5" cy="69.6" r="0.85" fill="#3b8fd8"/>
<circle cx="349.6" cy="60.6" r="0.85" fill="#3b8fd8"/>
<circle cx="357.4" cy="66.7" r="0.85" fill="#3b8fd8"/>
<circle cx="355.8" cy="65.8" r="0.85" fill="#3b8fd8"/>
<circle cx="348.7" cy="65.2" r="0.85" fill="#3b8fd8"/>
<circle cx="356.3" cy="69.3" r="0.85" fill="#3b8fd8"/>
<circle cx="352.0" cy="70.1" r="0.85" fill="#3b8fd8"/>
<circle cx="352.9" cy="68.7" r="0.85" fill="#3b8fd8"/>
<circle cx="350.8" cy="62.0" r="0.85" fill="#3b8fd8"/>
<circle cx="354.0" cy="70.1" r="0.85" fill="#3b8fd8"/>
<circle cx="351.3" cy="72.6" r="0.85" fill="#3b8fd8"/>
<circle cx="354.5" cy="73.1" r="0.85" fill="#3b8fd8"/>
<circle cx="355.6" cy="71.6" r="0.85" fill="#3b8fd8"/>
<circle cx="353.0" cy="64.2" r="0.85" fill="#3b8fd8"/>
<circle cx="359.9" cy="71.8" r="0.85" fill="#3b8fd8"/>
<circle cx="355.7" cy="65.7" r="0.85" fill="#3b8fd8"/>
<circle cx="356.2" cy="65.4" r="0.85" fill="#3b8fd8"/>
<circle cx="355.2" cy="70.8" r="0.85" fill="#3b8fd8"/>
<circle cx="355.1" cy="65.5" r="0.85" fill="#3b8fd8"/>
<circle cx="355.4" cy="68.7" r="0.85" fill="#3b8fd8"/>
<circle cx="355.3" cy="71.7" r="0.85" fill="#3b8fd8"/>
<circle cx="351.9" cy="65.9" r="0.85" fill="#3b8fd8"/>
<circle cx="347.9" cy="72.4" r="0.85" fill="#3b8fd8"/>
<circle cx="351.5" cy="71.8" r="0.85" fill="#3b8fd8"/>
<circle cx="354.7" cy="71.5" r="0.85" fill="#3b8fd8"/>
<circle cx="354.4" cy="69.5" r="0.85" fill="#3b8fd8"/>
<circle cx="353.1" cy="69.5" r="0.85" fill="#3b8fd8"/>
<circle cx="350.8" cy="71.1" r="0.85" fill="#3b8fd8"/>
<circle cx="349.0" cy="66.8" r="0.85" fill="#3b8fd8"/>
<circle cx="352.6" cy="68.5" r="0.85" fill="#3b8fd8"/>
<circle cx="353.4" cy="65.5" r="0.85" fill="#3b8fd8"/>
<circle cx="353.9" cy="60.7" r="0.85" fill="#3b8fd8"/>
<circle cx="351.7" cy="68.0" r="0.85" fill="#3b8fd8"/>
<circle cx="351.7" cy="70.9" r="0.85" fill="#3b8fd8"/>
<circle cx="353.3" cy="69.5" r="0.85" fill="#3b8fd8"/>
<circle cx="350.5" cy="70.7" r="0.85" fill="#3b8fd8"/>
<circle cx="355.7" cy="64.0" r="0.85" fill="#3b8fd8"/>
<circle cx="357.6" cy="64.9" r="0.85" fill="#3b8fd8"/>
<circle cx="350.4" cy="70.4" r="0.85" fill="#3b8fd8"/>
<circle cx="358.5" cy="70.0" r="0.85" fill="#3b8fd8"/>
<circle cx="353.2" cy="66.2" r="0.85" fill="#3b8fd8"/>
<circle cx="351.6" cy="68.7" r="0.85" fill="#3b8fd8"/>
<circle cx="354.6" cy="65.5" r="0.85" fill="#3b8fd8"/>
<circle cx="355.0" cy="62.1" r="0.85" fill="#3b8fd8"/>
<circle cx="354.3" cy="65.6" r="0.85" fill="#3b8fd8"/>
<circle cx="350.1" cy="74.0" r="0.85" fill="#3b8fd8"/>
<circle cx="355.3" cy="67.3" r="0.85" fill="#3b8fd8"/>
<circle cx="350.6" cy="72.1" r="0.85" fill="#3b8fd8"/>
<circle cx="353.9" cy="66.0" r="0.85" fill="#3b8fd8"/>
<circle cx="347.1" cy="70.7" r="0.85" fill="#3b8fd8"/>
<circle cx="355.7" cy="69.5" r="0.85" fill="#3b8fd8"/>
<circle cx="350.7" cy="63.1" r="0.85" fill="#3b8fd8"/>
<circle cx="356.8" cy="67.3" r="0.85" fill="#3b8fd8"/>
<circle cx="355.7" cy="61.0" r="0.85" fill="#3b8fd8"/>
<circle cx="352.8" cy="70.1" r="0.85" fill="#3b8fd8"/>
<circle cx="353.5" cy="73.2" r="0.85" fill="#3b8fd8"/>
<circle cx="356.1" cy="71.0" r="0.85" fill="#3b8fd8"/>
<circle cx="355.5" cy="67.5" r="0.85" fill="#3b8fd8"/>
<circle cx="351.4" cy="65.8" r="0.85" fill="#3b8fd8"/>
<circle cx="357.1" cy="67.6" r="0.85" fill="#3b8fd8"/>
<circle cx="347.8" cy="68.6" r="0.85" fill="#3b8fd8"/>
<circle cx="353.8" cy="66.7" r="0.85" fill="#3b8fd8"/>
<circle cx="354.7" cy="65.6" r="0.85" fill="#3b8fd8"/>
<circle cx="360.9" cy="66.9" r="0.85" fill="#3b8fd8"/>
<circle cx="350.9" cy="68.4" r="0.85" fill="#3b8fd8"/>
<circle cx="354.1" cy="70.5" r="0.85" fill="#3b8fd8"/>
<circle cx="354.3" cy="69.9" r="0.85" fill="#3b8fd8"/>
<circle cx="353.7" cy="67.4" r="0.85" fill="#3b8fd8"/>
<circle cx="350.7" cy="66.1" r="0.85" fill="#3b8fd8"/>
<circle cx="353.5" cy="64.7" r="0.85" fill="#3b8fd8"/>
<circle cx="355.8" cy="67.3" r="0.85" fill="#3b8fd8"/>
<circle cx="356.9" cy="70.3" r="0.85" fill="#3b8fd8"/>
<circle cx="352.8" cy="76.6" r="0.85" fill="#3b8fd8"/>
<circle cx="357.6" cy="66.3" r="0.85" fill="#3b8fd8"/>
<circle cx="354.9" cy="66.5" r="0.85" fill="#3b8fd8"/>
<circle cx="351.1" cy="68.6" r="0.85" fill="#3b8fd8"/>
<circle cx="352.3" cy="70.5" r="0.85" fill="#3b8fd8"/>
<circle cx="349.8" cy="68.9" r="0.85" fill="#3b8fd8"/>
<circle cx="357.2" cy="68.8" r="0.85" fill="#3b8fd8"/>
<circle cx="358.9" cy="73.6" r="0.85" fill="#3b8fd8"/>
<circle cx="350.3" cy="67.1" r="0.85" fill="#3b8fd8"/>
<circle cx="352.1" cy="72.3" r="0.85" fill="#3b8fd8"/>
<circle cx="352.3" cy="62.3" r="0.85" fill="#3b8fd8"/>
<circle cx="351.9" cy="67.2" r="0.85" fill="#3b8fd8"/>
<circle cx="353.2" cy="67.6" r="0.85" fill="#3b8fd8"/>
<circle cx="353.7" cy="65.9" r="0.85" fill="#3b8fd8"/>
<circle cx="353.5" cy="66.8" r="0.85" fill="#3b8fd8"/>
<circle cx="352.4" cy="67.3" r="0.85" fill="#3b8fd8"/>
<circle cx="355.9" cy="68.8" r="0.85" fill="#3b8fd8"/>
<circle cx="355.4" cy="66.0" r="0.85" fill="#3b8fd8"/>
<circle cx="348.9" cy="67.6" r="0.85" fill="#3b8fd8"/>
<circle cx="355.9" cy="68.0" r="0.85" fill="#3b8fd8"/>
<circle cx="352.1" cy="63.7" r="0.85" fill="#3b8fd8"/>
<circle cx="354.5" cy="65.8" r="0.85" fill="#3b8fd8"/>
<circle cx="349.0" cy="69.1" r="0.85" fill="#3b8fd8"/>
<circle cx="353.8" cy="71.5" r="0.85" fill="#3b8fd8"/>
<circle cx="350.1" cy="64.2" r="0.85" fill="#3b8fd8"/>
<circle cx="354.0" cy="72.4" r="0.85" fill="#3b8fd8"/>
<circle cx="354.1" cy="69.9" r="0.85" fill="#3b8fd8"/>
<circle cx="349.8" cy="68.9" r="0.85" fill="#3b8fd8"/>
<circle cx="349.5" cy="63.0" r="0.85" fill="#3b8fd8"/>
<circle cx="355.6" cy="71.3" r="0.85" fill="#3b8fd8"/>
<circle cx="351.6" cy="68.6" r="0.85" fill="#3b8fd8"/>
<circle cx="355.2" cy="67.5" r="0.85" fill="#3b8fd8"/>
<circle cx="353.7" cy="69.1" r="0.85" fill="#3b8fd8"/>
<circle cx="351.3" cy="65.1" r="0.85" fill="#3b8fd8"/>
<circle cx="354.8" cy="74.5" r="0.85" fill="#3b8fd8"/>
<circle cx="352.6" cy="66.9" r="0.85" fill="#3b8fd8"/>
<circle cx="358.9" cy="66.3" r="0.85" fill="#3b8fd8"/>
<circle cx="351.6" cy="73.5" r="0.85" fill="#3b8fd8"/>
<circle cx="355.6" cy="70.2" r="0.85" fill="#3b8fd8"/>
<circle cx="347.7" cy="71.7" r="0.85" fill="#3b8fd8"/>
<circle cx="353.0" cy="70.9" r="0.85" fill="#3b8fd8"/>
<circle cx="355.2" cy="73.3" r="0.85" fill="#3b8fd8"/>
<circle cx="356.0" cy="73.3" r="0.85" fill="#3b8fd8"/>
<circle cx="351.9" cy="71.3" r="0.85" fill="#3b8fd8"/>
<circle cx="355.4" cy="66.8" r="0.85" fill="#3b8fd8"/>
<circle cx="349.9" cy="67.6" r="0.85" fill="#3b8fd8"/>
<circle cx="351.3" cy="67.0" r="0.85" fill="#3b8fd8"/>
<circle cx="352.3" cy="66.4" r="0.85" fill="#3b8fd8"/>
<circle cx="354.0" cy="68.6" r="0.85" fill="#3b8fd8"/>
<circle cx="350.9" cy="66.0" r="0.85" fill="#3b8fd8"/>
<circle cx="354.3" cy="66.7" r="0.85" fill="#3b8fd8"/>
<circle cx="352.4" cy="65.6" r="0.85" fill="#3b8fd8"/>
<circle cx="348.6" cy="67.5" r="0.85" fill="#3b8fd8"/>
<circle cx="350.8" cy="67.9" r="0.85" fill="#3b8fd8"/>
<circle cx="352.8" cy="67.0" r="0.85" fill="#3b8fd8"/>
<circle cx="356.2" cy="65.9" r="0.85" fill="#3b8fd8"/>
<circle cx="356.9" cy="69.1" r="0.85" fill="#3b8fd8"/>
<circle cx="361.1" cy="65.7" r="0.85" fill="#3b8fd8"/>
<circle cx="351.8" cy="69.3" r="0.85" fill="#3b8fd8"/>
<circle cx="355.9" cy="67.4" r="0.85" fill="#3b8fd8"/>
<circle cx="355.9" cy="68.5" r="0.85" fill="#3b8fd8"/>
<circle cx="349.7" cy="69.1" r="0.85" fill="#3b8fd8"/>
<circle cx="356.1" cy="69.3" r="0.85" fill="#3b8fd8"/>
<circle cx="353.4" cy="65.8" r="0.85" fill="#3b8fd8"/>
<circle cx="355.8" cy="72.2" r="0.85" fill="#3b8fd8"/>
<circle cx="349.8" cy="70.0" r="0.85" fill="#3b8fd8"/>
<circle cx="348.7" cy="68.8" r="0.85" fill="#3b8fd8"/>
<circle cx="346.2" cy="67.7" r="0.85" fill="#3b8fd8"/>
<circle cx="355.5" cy="64.2" r="0.85" fill="#3b8fd8"/>
<circle cx="350.0" cy="68.5" r="0.85" fill="#3b8fd8"/>
<circle cx="353.0" cy="69.1" r="0.85" fill="#3b8fd8"/>
<circle cx="357.6" cy="64.9" r="0.85" fill="#3b8fd8"/>
<circle cx="354.4" cy="62.8" r="0.85" fill="#3b8fd8"/>
<circle cx="345.2" cy="65.5" r="0.85" fill="#3b8fd8"/>
<circle cx="346.0" cy="69.6" r="0.85" fill="#3b8fd8"/>
<circle cx="356.2" cy="69.6" r="0.85" fill="#3b8fd8"/>
<circle cx="349.1" cy="66.1" r="0.85" fill="#3b8fd8"/>
<circle cx="348.9" cy="67.7" r="0.85" fill="#3b8fd8"/>
<circle cx="350.8" cy="71.3" r="0.85" fill="#3b8fd8"/>
<circle cx="354.9" cy="64.7" r="0.85" fill="#3b8fd8"/>
<circle cx="357.9" cy="68.8" r="0.85" fill="#3b8fd8"/>
<circle cx="356.2" cy="68.3" r="0.85" fill="#3b8fd8"/>
<circle cx="357.4" cy="71.4" r="0.85" fill="#3b8fd8"/>
<circle cx="356.0" cy="72.2" r="0.85" fill="#3b8fd8"/>
<circle cx="355.5" cy="69.1" r="0.85" fill="#3b8fd8"/>
<circle cx="351.6" cy="62.3" r="0.85" fill="#3b8fd8"/>
<circle cx="357.3" cy="70.0" r="0.85" fill="#3b8fd8"/>
<circle cx="348.8" cy="42.6" r="0.85" fill="#3b8fd8"/>
<circle cx="346.3" cy="50.0" r="0.85" fill="#3b8fd8"/>
<circle cx="350.0" cy="56.0" r="0.85" fill="#3b8fd8"/>
<circle cx="345.0" cy="58.0" r="0.85" fill="#3b8fd8"/>
<circle cx="360.0" cy="60.0" r="0.85" fill="#3b8fd8"/>
<circle cx="356.0" cy="79.0" r="0.85" fill="#3b8fd8"/>
<circle cx="345.1" cy="76.1" r="0.95" fill="#d8336a"/>
<circle cx="349.6" cy="74.2" r="0.95" fill="#d8336a"/>
<circle cx="355.5" cy="76.5" r="0.95" fill="#d8336a"/>
<circle cx="344.2" cy="74.2" r="0.95" fill="#d8336a"/>
<circle cx="352.6" cy="76.8" r="0.95" fill="#d8336a"/>
<circle cx="350.9" cy="73.0" r="0.95" fill="#d8336a"/>
<circle cx="350.3" cy="69.2" r="0.95" fill="#d8336a"/>
<circle cx="353.5" cy="73.8" r="0.95" fill="#d8336a"/>
<circle cx="347.0" cy="72.2" r="0.95" fill="#d8336a"/>
<circle cx="349.6" cy="71.9" r="0.95" fill="#d8336a"/>
<circle cx="345.5" cy="71.5" r="0.95" fill="#d8336a"/>
<circle cx="355.1" cy="73.7" r="0.95" fill="#d8336a"/>
<text x="307.8" y="127" font-size="4.6" text-anchor="middle" fill="#222" stroke="#222" stroke-width="0.06" >PC1</text>
<text x="273.5" y="84" font-size="4.6" text-anchor="middle" fill="#222" stroke="#222" stroke-width="0.16" transform="rotate(-90 273.5 84)" >PC3</text>
<text x="394" y="90" font-size="4.6" text-anchor="middle" fill="#222" stroke="#222" stroke-width="0.16" transform="rotate(-90 394 90)" >PC2</text>
<text x="285.6" y="117.3" font-size="3.4" text-anchor="middle" fill="#333" stroke="#333" stroke-width="0.06" >−15</text>
<text x="296.90000000000003" y="117.3" font-size="3.4" text-anchor="middle" fill="#333" stroke="#333" stroke-width="0.06" >−10</text>
<text x="308.20000000000005" y="117.3" font-size="3.4" text-anchor="middle" fill="#333" stroke="#333" stroke-width="0.06" >−5</text>
<text x="319.5" y="117.3" font-size="3.4" text-anchor="middle" fill="#333" stroke="#333" stroke-width="0.06" >0</text>
<text x="330.8" y="117.3" font-size="3.4" text-anchor="middle" fill="#333" stroke="#333" stroke-width="0.06" >5</text>
<line x1="283.8" y1="111.2" x2="285.5" y2="111.2" stroke="#555" stroke-width="0.4" />
<text x="281.3" y="111.2" font-size="3.2" text-anchor="middle" fill="#333" stroke="#333" stroke-width="0.16" transform="rotate(-90 281.3 111.2)" >−15</text>
<line x1="283.8" y1="101.5" x2="285.5" y2="101.5" stroke="#555" stroke-width="0.4" />
<text x="281.3" y="101.5" font-size="3.2" text-anchor="middle" fill="#333" stroke="#333" stroke-width="0.16" transform="rotate(-90 281.3 101.5)" >−10</text>
<line x1="283.8" y1="91.80000000000001" x2="285.5" y2="91.80000000000001" stroke="#555" stroke-width="0.4" />
<text x="281.3" y="91.80000000000001" font-size="3.2" text-anchor="middle" fill="#333" stroke="#333" stroke-width="0.16" transform="rotate(-90 281.3 91.80000000000001)" >−5</text>
<line x1="283.8" y1="82.10000000000001" x2="285.5" y2="82.10000000000001" stroke="#555" stroke-width="0.4" />
<text x="281.3" y="82.10000000000001" font-size="3.2" text-anchor="middle" fill="#333" stroke="#333" stroke-width="0.16" transform="rotate(-90 281.3 82.10000000000001)" >0</text>
<line x1="283.8" y1="72.4" x2="285.5" y2="72.4" stroke="#555" stroke-width="0.4" />
<text x="281.3" y="72.4" font-size="3.2" text-anchor="middle" fill="#333" stroke="#333" stroke-width="0.16" transform="rotate(-90 281.3 72.4)" >5</text>
<line x1="283.8" y1="62.7" x2="285.5" y2="62.7" stroke="#555" stroke-width="0.4" />
<text x="281.3" y="62.7" font-size="3.2" text-anchor="middle" fill="#333" stroke="#333" stroke-width="0.16" transform="rotate(-90 281.3 62.7)" >10</text>
<line x1="283.8" y1="53.00000000000001" x2="285.5" y2="53.00000000000001" stroke="#555" stroke-width="0.4" />
<text x="281.3" y="53.00000000000001" font-size="3.2" text-anchor="middle" fill="#333" stroke="#333" stroke-width="0.16" transform="rotate(-90 281.3 53.00000000000001)" >15</text>
<line x1="331.2" y1="112.0" x2="332.7" y2="112.0" stroke="#555" stroke-width="0.4" />
<text x="336.4" y="114.2" font-size="3.2" text-anchor="middle" fill="#333" stroke="#333" stroke-width="0.06" >−10</text>
<line x1="339.96666666666664" y1="108.25" x2="341.46666666666664" y2="108.25" stroke="#555" stroke-width="0.4" />
<text x="345.16666666666663" y="110.45" font-size="3.2" text-anchor="middle" fill="#333" stroke="#333" stroke-width="0.06" >−8</text>
<line x1="348.73333333333335" y1="104.5" x2="350.23333333333335" y2="104.5" stroke="#555" stroke-width="0.4" />
<text x="353.93333333333334" y="106.7" font-size="3.2" text-anchor="middle" fill="#333" stroke="#333" stroke-width="0.06" >−6</text>
<line x1="357.5" y1="100.75" x2="359.0" y2="100.75" stroke="#555" stroke-width="0.4" />
<text x="362.7" y="102.95" font-size="3.2" text-anchor="middle" fill="#333" stroke="#333" stroke-width="0.06" >−4</text>
<line x1="366.26666666666665" y1="97.0" x2="367.76666666666665" y2="97.0" stroke="#555" stroke-width="0.4" />
<text x="371.46666666666664" y="99.2" font-size="3.2" text-anchor="middle" fill="#333" stroke="#333" stroke-width="0.06" >−2</text>
<line x1="375.0333333333333" y1="93.25" x2="376.5333333333333" y2="93.25" stroke="#555" stroke-width="0.4" />
<text x="380.2333333333333" y="95.45" font-size="3.2" text-anchor="middle" fill="#333" stroke="#333" stroke-width="0.06" >0</text>
<line x1="383.8" y1="89.5" x2="385.3" y2="89.5" stroke="#555" stroke-width="0.4" />
<text x="389.0" y="91.7" font-size="3.2" text-anchor="middle" fill="#333" stroke="#333" stroke-width="0.06" >2</text>
<rect x="22.5" y="135.5" width="105.3" height="112" fill="none" stroke="#333" stroke-width="0.95"/>
<line x1="20.2" y1="136" x2="22.2" y2="136" stroke="#333" stroke-width="0.7" />
<text x="18.0" y="138" font-size="5.7" text-anchor="end" fill="#333" stroke="#333" stroke-width="0.06" >1.0</text>
<line x1="20.2" y1="158.3" x2="22.2" y2="158.3" stroke="#333" stroke-width="0.7" />
<text x="18.0" y="160.3" font-size="5.7" text-anchor="end" fill="#333" stroke="#333" stroke-width="0.06" >0.8</text>
<line x1="20.2" y1="180.6" x2="22.2" y2="180.6" stroke="#333" stroke-width="0.7" />
<text x="18.0" y="182.6" font-size="5.7" text-anchor="end" fill="#333" stroke="#333" stroke-width="0.06" >0.6</text>
<line x1="20.2" y1="203" x2="22.2" y2="203" stroke="#333" stroke-width="0.7" />
<text x="18.0" y="205" font-size="5.7" text-anchor="end" fill="#333" stroke="#333" stroke-width="0.06" >0.4</text>
<line x1="20.2" y1="225.2" x2="22.2" y2="225.2" stroke="#333" stroke-width="0.7" />
<text x="18.0" y="227.2" font-size="5.7" text-anchor="end" fill="#333" stroke="#333" stroke-width="0.06" >0.2</text>
<line x1="20.2" y1="247.5" x2="22.2" y2="247.5" stroke="#333" stroke-width="0.7" />
<text x="18.0" y="249.5" font-size="5.7" text-anchor="end" fill="#333" stroke="#333" stroke-width="0.06" >0.0</text>
<line x1="22.2" y1="247.5" x2="22.2" y2="249.5" stroke="#333" stroke-width="0.7" />
<text x="22.2" y="256.1" font-size="5.7" text-anchor="middle" fill="#333" stroke="#333" stroke-width="0.06" >0.0</text>
<line x1="43.31999999999999" y1="247.5" x2="43.31999999999999" y2="249.5" stroke="#333" stroke-width="0.7" />
<text x="43.31999999999999" y="256.1" font-size="5.7" text-anchor="middle" fill="#333" stroke="#333" stroke-width="0.06" >0.2</text>
<line x1="64.44" y1="247.5" x2="64.44" y2="249.5" stroke="#333" stroke-width="0.7" />
<text x="64.44" y="256.1" font-size="5.7" text-anchor="middle" fill="#333" stroke="#333" stroke-width="0.06" >0.4</text>
<line x1="85.55999999999999" y1="247.5" x2="85.55999999999999" y2="249.5" stroke="#333" stroke-width="0.7" />
<text x="85.55999999999999" y="256.1" font-size="5.7" text-anchor="middle" fill="#333" stroke="#333" stroke-width="0.06" >0.6</text>
<line x1="106.67999999999999" y1="247.5" x2="106.67999999999999" y2="249.5" stroke="#333" stroke-width="0.7" />
<text x="106.67999999999999" y="256.1" font-size="5.7" text-anchor="middle" fill="#333" stroke="#333" stroke-width="0.06" >0.8</text>
<line x1="127.8" y1="247.5" x2="127.8" y2="249.5" stroke="#333" stroke-width="0.7" />
<text x="127.8" y="256.1" font-size="5.7" text-anchor="middle" fill="#333" stroke="#333" stroke-width="0.06" >1.0</text>
<text x="74.7" y="264.9" font-size="6.5" text-anchor="middle" fill="#000" stroke="#000" stroke-width="0.06" >1−Specificity (FPR)</text>
<text x="5.2" y="192.1" font-size="6.8" text-anchor="middle" fill="#000" stroke="#000" stroke-width="0.16" transform="rotate(-90 5.2 192.1)" >Sensitivity (TPR)</text>
<line x1="22.2" y1="247.5" x2="127.8" y2="135.5" stroke="#bbb" stroke-width="0.6" />
<path d="M22.20,247.50 L22.38,247.50 L22.38,244.15 L22.56,244.15 L22.56,240.80 L22.74,240.80 L22.74,237.45 L22.92,237.45 L22.92,234.10 L23.10,234.10 L23.10,230.75 L23.28,230.75 L23.28,227.40 L23.46,227.40 L23.46,224.05 L23.64,224.05 L23.64,220.70 L23.82,220.70 L23.82,217.35 L24.00,217.35 L24.00,214.00 L25.25,214.00 L25.25,210.75 L26.50,210.75 L26.50,207.50 L30.50,207.50 L30.50,202.30 L32.45,202.30 L32.45,199.00 L34.40,199.00 L34.40,195.70 L36.35,195.70 L36.35,191.80 L38.30,191.80 L38.30,187.90 L40.65,187.90 L40.65,183.95 L43.00,183.95 L43.00,180.00 L47.00,180.00 L47.00,173.80 L51.50,173.80 L51.50,168.20 L55.95,168.20 L55.95,167.60 L60.40,167.60 L60.40,167.00 L63.80,167.00 L63.80,165.35 L67.20,165.35 L67.20,163.70 L70.60,163.70 L70.60,162.60 L74.00,162.60 L74.00,161.50 L77.85,161.50 L77.85,159.75 L81.70,159.75 L81.70,158.00 L85.10,158.00 L85.10,156.90 L88.50,156.90 L88.50,155.80 L91.85,155.80 L91.85,153.55 L95.20,153.55 L95.20,151.30 L99.70,151.30 L99.70,149.10 L104.20,149.10 L104.20,146.90 L105.35,146.90 L105.35,143.45 L106.50,143.45 L106.50,140.00 L112.00,140.00 L112.00,137.90 L116.00,137.90 L116.00,137.10 L120.00,137.10 L120.00,136.30 L123.90,136.30 L123.90,135.90 L127.80,135.90 L127.80,135.50" fill="none" stroke="#5cb85c" stroke-width="0.9"/>
<path d="M22.20,247.50 L22.25,247.50 L22.25,244.14 L22.30,244.14 L22.30,240.78 L22.35,240.78 L22.35,237.41 L22.40,237.41 L22.40,234.05 L22.45,234.05 L22.45,230.69 L22.50,230.69 L22.50,227.32 L22.55,227.32 L22.55,223.96 L22.60,223.96 L22.60,220.60 L26.50,220.60 L26.50,218.00 L30.50,218.00 L30.50,214.00 L32.23,214.00 L32.23,210.53 L33.97,210.53 L33.97,207.07 L35.70,207.07 L35.70,203.60 L39.70,203.60 L39.70,199.70 L45.00,199.70 L45.00,198.30 L48.80,198.30 L48.80,195.70 L51.50,195.70 L51.50,189.50 L53.15,189.50 L53.15,185.60 L54.80,185.60 L54.80,181.70 L56.50,181.70 L56.50,178.35 L58.20,178.35 L58.20,175.00 L60.40,175.00 L60.40,169.30 L65.00,169.30 L65.00,163.70 L68.35,163.70 L68.35,162.60 L71.70,162.60 L71.70,161.50 L81.00,161.50 L85.10,161.50 L85.10,157.00 L88.50,157.00 L88.50,151.30 L92.40,151.30 L92.40,150.20 L96.30,150.20 L96.30,149.10 L102.00,149.10 L102.00,148.00 L106.50,148.00 L106.50,145.70 L111.00,145.70 L111.00,143.50 L115.40,143.50 L115.40,139.00 L120.00,139.00 L120.00,136.70 L123.90,136.70 L123.90,136.10 L127.80,136.10 L127.80,135.50" fill="none" stroke="#e03b3b" stroke-width="0.9"/>
<path d="M22.20,247.50 L22.60,247.50 L22.60,244.00 L23.07,244.00 L23.07,240.00 L23.53,240.00 L23.53,236.00 L24.00,236.00 L24.00,232.00 L24.62,232.00 L24.62,228.75 L25.25,228.75 L25.25,225.50 L25.88,225.50 L25.88,222.25 L26.50,222.25 L26.50,219.00 L27.83,219.00 L27.83,215.67 L29.17,215.67 L29.17,212.33 L30.50,212.33 L30.50,209.00 L31.48,209.00 L31.48,205.68 L32.45,205.68 L32.45,202.35 L33.42,202.35 L33.42,199.02 L34.40,199.02 L34.40,195.70 L36.35,195.70 L36.35,191.35 L38.30,191.35 L38.30,187.00 L41.30,187.00 L41.30,184.00 L44.70,184.00 L44.70,178.30 L48.00,178.30 L48.00,172.70 L53.70,172.70 L53.70,168.20 L60.40,168.20 L65.00,168.20 L65.00,163.70 L68.30,163.70 L68.30,159.20 L74.00,159.20 L74.00,155.80 L77.30,155.80 L77.30,154.15 L80.60,154.15 L80.60,152.50 L86.20,152.50 L86.20,151.30 L87.40,151.30 L87.40,145.70 L103.00,145.70 L104.20,145.70 L104.20,143.50 L108.70,143.50 L108.70,141.20 L112.00,141.20 L112.00,140.00 L114.30,140.00 L114.30,142.40 L116.60,142.40 L116.60,140.00 L122.20,140.00 L122.20,136.70 L127.80,136.70 L127.80,135.50" fill="none" stroke="#2a4d9a" stroke-width="0.9"/>
<line x1="67.5" y1="229.6" x2="76.3" y2="229.6" stroke="#2a4d9a" stroke-width="0.9" />
<text x="79.5" y="231.29999999999998" font-size="4.8" text-anchor="start" fill="#222" stroke="#222" stroke-width="0.06" >1−Year (AUC = 0.744)</text>
<line x1="67.5" y1="236.35" x2="76.3" y2="236.35" stroke="#e03b3b" stroke-width="0.9" />
<text x="79.5" y="238.04999999999998" font-size="4.8" text-anchor="start" fill="#222" stroke="#222" stroke-width="0.06" >3−Year (AUC = 0.699)</text>
<line x1="67.5" y1="243.1" x2="76.3" y2="243.1" stroke="#5cb85c" stroke-width="0.9" />
<text x="79.5" y="244.79999999999998" font-size="4.8" text-anchor="start" fill="#222" stroke="#222" stroke-width="0.06" >5−Year (AUC = 0.743)</text>
<line x1="133.5" y1="144.9" x2="265" y2="144.9" stroke="#333" stroke-width="1.1" />
<line x1="133.5" y1="155.5" x2="265" y2="155.5" stroke="#333" stroke-width="1.1" />
<line x1="133.5" y1="254.2" x2="265" y2="254.2" stroke="#333" stroke-width="1.0" />
<text x="135.6" y="152.8" font-size="5.3" text-anchor="start" fill="#000" stroke="#000" stroke-width="0.06" >Characteristic</text>
<text x="173.6" y="152.8" font-size="5.3" text-anchor="start" fill="#000" stroke="#000" stroke-width="0.06" >HR,95%CI</text>
<text x="247.2" y="152.8" font-size="5.3" text-anchor="start" fill="#000" stroke="#000" stroke-width="0.06" >pvalue</text>
<text x="139.4" y="163.4" font-size="5.3" text-anchor="start" fill="#000" stroke="#000" stroke-width="0.06" >Univariate</text>
<text x="137.9" y="228.6" font-size="5.3" text-anchor="start" fill="#000" stroke="#000" stroke-width="0.06" >Multivariate</text>
<line x1="212.0" y1="158.4" x2="212.0" y2="254.2" stroke="#444" stroke-width="0.85" stroke-dasharray="3.4,1.8"/>
<text x="150.7" y="174.6" font-size="5.3" text-anchor="middle" fill="#000" stroke="#000" stroke-width="0.06" >Age</text>
<text x="168.3" y="174.6" font-size="5.3" text-anchor="start" fill="#000" stroke="#000" stroke-width="0.06" >1.01(1.00−1.02)</text>
<text x="255.2" y="174.6" font-size="5.3" text-anchor="middle" fill="#000" stroke="#000" stroke-width="0.06" >0.18</text>
<line x1="211.2" y1="172.7" x2="213.066" y2="172.7" stroke="#1a1a1a" stroke-width="0.8" />
<line x1="211.2" y1="171.5" x2="211.2" y2="173.89999999999998" stroke="#1a1a1a" stroke-width="0.7" />
<line x1="213.066" y1="171.5" x2="213.066" y2="173.89999999999998" stroke="#1a1a1a" stroke-width="0.7" />
<circle cx="212.13" cy="172.7" r="1.55" fill="#24648f"/>
<text x="150.7" y="185.3" font-size="5.3" text-anchor="middle" fill="#000" stroke="#000" stroke-width="0.06" >Gender</text>
<text x="168.3" y="185.3" font-size="5.3" text-anchor="start" fill="#000" stroke="#000" stroke-width="0.06" >0.82(0.56−1.21)</text>
<text x="255.2" y="185.3" font-size="5.3" text-anchor="middle" fill="#000" stroke="#000" stroke-width="0.06" >0.32</text>
<line x1="205.34799999999998" y1="183.4" x2="215.59300000000002" y2="183.4" stroke="#1a1a1a" stroke-width="0.8" />
<line x1="205.34799999999998" y1="182.20000000000002" x2="205.34799999999998" y2="184.6" stroke="#1a1a1a" stroke-width="0.7" />
<line x1="215.59300000000002" y1="182.20000000000002" x2="215.59300000000002" y2="184.6" stroke="#1a1a1a" stroke-width="0.7" />
<circle cx="209.61" cy="183.4" r="1.55" fill="#24648f"/>
<text x="150.7" y="196.1" font-size="5.3" text-anchor="middle" fill="#000" stroke="#000" stroke-width="0.06" >Grade</text>
<text x="168.3" y="196.1" font-size="5.3" text-anchor="start" fill="#000" stroke="#000" stroke-width="0.06" >1.12(0.87−1.45)</text>
<text x="255.2" y="196.1" font-size="5.3" text-anchor="middle" fill="#000" stroke="#000" stroke-width="0.06" >0.36</text>
<line x1="209.47099999999998" y1="194.2" x2="218.78500000000003" y2="194.2" stroke="#1a1a1a" stroke-width="0.8" />
<line x1="209.47099999999998" y1="193.0" x2="209.47099999999998" y2="195.39999999999998" stroke="#1a1a1a" stroke-width="0.7" />
<line x1="218.78500000000003" y1="193.0" x2="218.78500000000003" y2="195.39999999999998" stroke="#1a1a1a" stroke-width="0.7" />
<circle cx="213.60" cy="194.2" r="1.55" fill="#24648f"/>
<text x="150.7" y="207.20000000000002" font-size="5.3" text-anchor="middle" fill="#000" stroke="#000" stroke-width="0.06" >Stage</text>
<text x="168.3" y="207.20000000000002" font-size="5.3" text-anchor="start" fill="#000" stroke="#000" stroke-width="0.06" >1.67(1.36−2.06)</text>
<text x="264.5" y="207.20000000000002" font-size="5.3" text-anchor="end" fill="#000" stroke="#000" stroke-width="0.06" >1.04e−06</text>
<line x1="215.988" y1="205.3" x2="226.89800000000002" y2="205.3" stroke="#1a1a1a" stroke-width="0.8" />
<line x1="215.988" y1="204.10000000000002" x2="215.988" y2="206.5" stroke="#1a1a1a" stroke-width="0.7" />
<line x1="226.89800000000002" y1="204.10000000000002" x2="226.89800000000002" y2="206.5" stroke="#1a1a1a" stroke-width="0.7" />
<circle cx="220.91" cy="205.3" r="1.55" fill="#24648f"/>
<text x="150.7" y="217.9" font-size="5.3" text-anchor="middle" fill="#000" stroke="#000" stroke-width="0.06" >riskScore</text>
<text x="168.3" y="217.9" font-size="5.3" text-anchor="start" fill="#000" stroke="#000" stroke-width="0.06" >2.54(1.95−3.32)</text>
<text x="264.5" y="217.9" font-size="5.3" text-anchor="end" fill="#000" stroke="#000" stroke-width="0.06" >7.02e−12</text>
<line x1="223.83499999999998" y1="216.0" x2="243.656" y2="216.0" stroke="#1a1a1a" stroke-width="0.8" />
<line x1="223.83499999999998" y1="214.8" x2="223.83499999999998" y2="217.2" stroke="#1a1a1a" stroke-width="0.7" />
<line x1="243.656" y1="214.8" x2="243.656" y2="217.2" stroke="#1a1a1a" stroke-width="0.7" />
<circle cx="232.48" cy="216.0" r="1.55" fill="#24648f"/>
<text x="150.7" y="239.6" font-size="5.3" text-anchor="middle" fill="#000" stroke="#000" stroke-width="0.06" >Stage</text>
<text x="168.3" y="239.6" font-size="5.3" text-anchor="start" fill="#000" stroke="#000" stroke-width="0.06" >1.62(1.30−2.01)</text>
<text x="264.5" y="239.6" font-size="5.3" text-anchor="end" fill="#000" stroke="#000" stroke-width="0.06" >1.2e−05</text>
<line x1="215.19" y1="237.7" x2="226.233" y2="237.7" stroke="#1a1a1a" stroke-width="0.8" />
<line x1="215.19" y1="236.5" x2="215.19" y2="238.89999999999998" stroke="#1a1a1a" stroke-width="0.7" />
<line x1="226.233" y1="236.5" x2="226.233" y2="238.89999999999998" stroke="#1a1a1a" stroke-width="0.7" />
<circle cx="220.25" cy="237.7" r="1.55" fill="#24648f"/>
<text x="150.7" y="250.3" font-size="5.3" text-anchor="middle" fill="#000" stroke="#000" stroke-width="0.06" >riskScore</text>
<text x="168.3" y="250.3" font-size="5.3" text-anchor="start" fill="#000" stroke="#000" stroke-width="0.06" >2.48(1.84−3.35)</text>
<text x="264.5" y="250.3" font-size="5.3" text-anchor="end" fill="#000" stroke="#000" stroke-width="0.06" >2.98e−09</text>
<line x1="222.37199999999999" y1="248.4" x2="244.055" y2="248.4" stroke="#1a1a1a" stroke-width="0.8" />
<line x1="222.37199999999999" y1="247.20000000000002" x2="222.37199999999999" y2="249.6" stroke="#1a1a1a" stroke-width="0.7" />
<line x1="244.055" y1="247.20000000000002" x2="244.055" y2="249.6" stroke="#1a1a1a" stroke-width="0.7" />
<circle cx="231.68" cy="248.4" r="1.55" fill="#24648f"/>
<line x1="212.0" y1="254.2" x2="212.0" y2="256" stroke="#000" stroke-width="0.6" />
<text x="212.0" y="262.6" font-size="5.0" text-anchor="middle" fill="#000" stroke="#000" stroke-width="0.06" >1</text>
<line x1="225.3" y1="254.2" x2="225.3" y2="256" stroke="#000" stroke-width="0.6" />
<text x="225.3" y="262.6" font-size="5.0" text-anchor="middle" fill="#000" stroke="#000" stroke-width="0.06" >2</text>
<line x1="238.6" y1="254.2" x2="238.6" y2="256" stroke="#000" stroke-width="0.6" />
<text x="238.6" y="262.6" font-size="5.0" text-anchor="middle" fill="#000" stroke="#000" stroke-width="0.06" >3</text>
<line x1="287.5" y1="160.5" x2="287.5" y2="239.2" stroke="#333" stroke-width="0.6" />
<line x1="285.3" y1="160.5" x2="287.5" y2="160.5" stroke="#333" stroke-width="0.6" />
<text x="281.2" y="160.5" font-size="4.6" text-anchor="middle" fill="#333" stroke="#333" stroke-width="0.16" transform="rotate(-90 281.2 160.5)" >0.8</text>
<line x1="285.3" y1="180.2" x2="287.5" y2="180.2" stroke="#333" stroke-width="0.6" />
<text x="281.2" y="180.2" font-size="4.6" text-anchor="middle" fill="#333" stroke="#333" stroke-width="0.16" transform="rotate(-90 281.2 180.2)" >0.7</text>
<line x1="285.3" y1="199.9" x2="287.5" y2="199.9" stroke="#333" stroke-width="0.6" />
<text x="281.2" y="199.9" font-size="4.6" text-anchor="middle" fill="#333" stroke="#333" stroke-width="0.16" transform="rotate(-90 281.2 199.9)" >0.6</text>
<line x1="285.3" y1="219.6" x2="287.5" y2="219.6" stroke="#333" stroke-width="0.6" />
<text x="281.2" y="219.6" font-size="4.6" text-anchor="middle" fill="#333" stroke="#333" stroke-width="0.16" transform="rotate(-90 281.2 219.6)" >0.5</text>
<line x1="285.3" y1="239.2" x2="287.5" y2="239.2" stroke="#333" stroke-width="0.6" />
<text x="281.2" y="239.2" font-size="4.6" text-anchor="middle" fill="#333" stroke="#333" stroke-width="0.16" transform="rotate(-90 281.2 239.2)" >0.4</text>
<line x1="291.4" y1="242.5" x2="397.2" y2="242.5" stroke="#333" stroke-width="0.6" />
<line x1="291.4" y1="242.5" x2="291.4" y2="244.7" stroke="#333" stroke-width="0.6" />
<text x="291.4" y="252.1" font-size="4.6" text-anchor="middle" fill="#333" stroke="#333" stroke-width="0.06" >0</text>
<line x1="312.56" y1="242.5" x2="312.56" y2="244.7" stroke="#333" stroke-width="0.6" />
<text x="312.56" y="252.1" font-size="4.6" text-anchor="middle" fill="#333" stroke="#333" stroke-width="0.06" >2</text>
<line x1="333.71999999999997" y1="242.5" x2="333.71999999999997" y2="244.7" stroke="#333" stroke-width="0.6" />
<text x="333.71999999999997" y="252.1" font-size="4.6" text-anchor="middle" fill="#333" stroke="#333" stroke-width="0.06" >4</text>
<line x1="354.88" y1="242.5" x2="354.88" y2="244.7" stroke="#333" stroke-width="0.6" />
<text x="354.88" y="252.1" font-size="4.6" text-anchor="middle" fill="#333" stroke="#333" stroke-width="0.06" >6</text>
<line x1="376.03999999999996" y1="242.5" x2="376.03999999999996" y2="244.7" stroke="#333" stroke-width="0.6" />
<text x="376.03999999999996" y="252.1" font-size="4.6" text-anchor="middle" fill="#333" stroke="#333" stroke-width="0.06" >8</text>
<line x1="397.2" y1="242.5" x2="397.2" y2="244.7" stroke="#333" stroke-width="0.6" />
<text x="397.2" y="252.1" font-size="4.6" text-anchor="middle" fill="#333" stroke="#333" stroke-width="0.06" >10</text>
<text x="344.3" y="263" font-size="4.8" text-anchor="middle" fill="#222" stroke="#222" stroke-width="0.06" >Time</text>
<text x="270" y="197.6" font-size="4.8" text-anchor="middle" fill="#222" stroke="#222" stroke-width="0.16" transform="rotate(-90 270 197.6)" >Concordance index</text>
<line x1="291.4" y1="219.6" x2="302" y2="219.6" stroke="#aaa" stroke-width="0.6" stroke-dasharray="1,1"/>
<polyline points="302.2,221.5 313,219.5 320,218.6 340,218.8 355,219.2 374,219.4 386,222.8 389,232 391.5,241" fill="none" stroke="#86d0dc" stroke-width="0.9"/>
<polyline points="302.2,222.1 313,218.3 324.2,217.2 355,218.3 373.7,218.3 385,224 388.3,230 390.5,241" fill="none" stroke="#8ccf78" stroke-width="0.9"/>
<polyline points="302.2,212.7 311,217.0 324.2,216.4 355,214.8 374.8,215 386,220.6 389.4,230 392.5,241" fill="none" stroke="#eee48c" stroke-width="0.9"/>
<polyline points="301.7,193.6 313,197 324.2,194.3 340,195.2 355,196.3 374.8,197 386,202.6 394,230 396.2,241" fill="none" stroke="#5560a8" stroke-width="0.9"/>
<polyline points="301.7,180.1 313,185.7 324.2,186.9 340,188 355,189.1 376,189.1 386,195.8 395,230 396.8,241" fill="none" stroke="#e6647a" stroke-width="0.9"/>
<line x1="359.1" y1="161.8" x2="367" y2="161.8" stroke="#e8788a" stroke-width="0.8" />
<text x="370.8" y="163.4" font-size="4.6" text-anchor="start" fill="#222" stroke="#222" stroke-width="0.06" >Risk score</text>
<line x1="359.1" y1="167.25" x2="367" y2="167.25" stroke="#eee480" stroke-width="0.8" />
<text x="370.8" y="168.85" font-size="4.6" text-anchor="start" fill="#222" stroke="#222" stroke-width="0.06" >Age</text>
<line x1="359.1" y1="172.70000000000002" x2="367" y2="172.70000000000002" stroke="#9cd48a" stroke-width="0.8" />
<text x="370.8" y="174.3" font-size="4.6" text-anchor="start" fill="#222" stroke="#222" stroke-width="0.06" >Gender</text>
<line x1="359.1" y1="178.15" x2="367" y2="178.15" stroke="#98d6e0" stroke-width="0.8" />
<text x="370.8" y="179.75" font-size="4.6" text-anchor="start" fill="#222" stroke="#222" stroke-width="0.06" >Grade</text>
<line x1="359.1" y1="183.60000000000002" x2="367" y2="183.60000000000002" stroke="#5a66a8" stroke-width="0.8" />
<text x="370.8" y="185.20000000000002" font-size="4.6" text-anchor="start" fill="#222" stroke="#222" stroke-width="0.06" >Stage</text></svg></body></html>
